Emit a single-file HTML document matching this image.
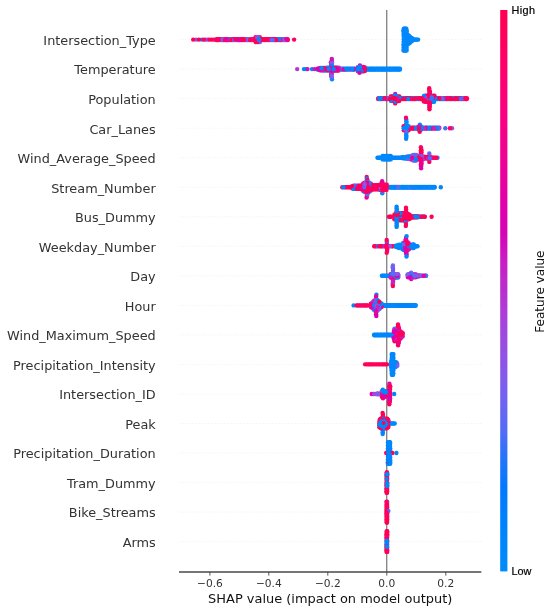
<!DOCTYPE html>
<html lang="en"><head><meta charset="utf-8"><title>SHAP summary plot</title>
<style>
html,body{margin:0;padding:0;background:#fff}
body{width:550px;height:609px;overflow:hidden}
svg{display:block}
text{font-family:"DejaVu Sans","Liberation Sans",sans-serif;fill:#333}
.tk text{font-size:10.65px}
.xl{font-size:12.95px;fill:#111}
.yl text{font-size:12.85px}
.hl{font-family:"Liberation Sans","DejaVu Sans",sans-serif;font-size:10.9px;fill:#000;stroke:#000;stroke-width:0.2px}
.fv{font-size:12.05px;fill:#111}
</style></head><body>
<svg width="550" height="609" viewBox="0 0 550 609">
<defs><linearGradient id="cb" x1="0" y1="1" x2="0" y2="0">
<stop offset="0.00" stop-color="#008bfb"/>
<stop offset="0.05" stop-color="#0086fd"/>
<stop offset="0.10" stop-color="#0080fd"/>
<stop offset="0.15" stop-color="#007afd"/>
<stop offset="0.20" stop-color="#2574fa"/>
<stop offset="0.25" stop-color="#526cf7"/>
<stop offset="0.30" stop-color="#6e64f2"/>
<stop offset="0.35" stop-color="#855aeb"/>
<stop offset="0.40" stop-color="#984ee2"/>
<stop offset="0.45" stop-color="#aa41d9"/>
<stop offset="0.50" stop-color="#b92fce"/>
<stop offset="0.55" stop-color="#c81fc3"/>
<stop offset="0.60" stop-color="#d604b7"/>
<stop offset="0.65" stop-color="#e100ab"/>
<stop offset="0.70" stop-color="#ea009e"/>
<stop offset="0.75" stop-color="#f20092"/>
<stop offset="0.80" stop-color="#f90085"/>
<stop offset="0.85" stop-color="#fd0078"/>
<stop offset="0.90" stop-color="#ff006b"/>
<stop offset="0.95" stop-color="#ff005e"/>
<stop offset="1.00" stop-color="#ff0051"/>
</linearGradient></defs>
<rect width="550" height="609" fill="#fff"/>
<g stroke="#cccccc" stroke-width="0.9" stroke-dasharray="1.2 2" opacity="0.3">
<line x1="179" x2="481.3" y1="39.6" y2="39.6"/>
<line x1="179" x2="481.3" y1="69.1" y2="69.1"/>
<line x1="179" x2="481.3" y1="98.7" y2="98.7"/>
<line x1="179" x2="481.3" y1="128.2" y2="128.2"/>
<line x1="179" x2="481.3" y1="157.7" y2="157.7"/>
<line x1="179" x2="481.3" y1="187.2" y2="187.2"/>
<line x1="179" x2="481.3" y1="216.8" y2="216.8"/>
<line x1="179" x2="481.3" y1="246.3" y2="246.3"/>
<line x1="179" x2="481.3" y1="275.8" y2="275.8"/>
<line x1="179" x2="481.3" y1="305.4" y2="305.4"/>
<line x1="179" x2="481.3" y1="334.9" y2="334.9"/>
<line x1="179" x2="481.3" y1="364.4" y2="364.4"/>
<line x1="179" x2="481.3" y1="394.0" y2="394.0"/>
<line x1="179" x2="481.3" y1="423.5" y2="423.5"/>
<line x1="179" x2="481.3" y1="453.0" y2="453.0"/>
<line x1="179" x2="481.3" y1="482.6" y2="482.6"/>
<line x1="179" x2="481.3" y1="512.1" y2="512.1"/>
<line x1="179" x2="481.3" y1="541.6" y2="541.6"/>
</g>
<line x1="386.75" x2="386.75" y1="10" y2="572" stroke="#707070" stroke-width="1.15"/>
<g class="d">
<circle cx="331.1" cy="69.1" r="2.2" fill="#ff005f"/>
<circle cx="423.7" cy="157.7" r="2.2" fill="#ff005c"/>
<circle cx="387.2" cy="518.1" r="2.2" fill="#ff0051"/>
<circle cx="366.5" cy="192.4" r="2.2" fill="#ea009f"/>
<circle cx="207.8" cy="39.6" r="2.2" fill="#984ee2"/>
<circle cx="405.6" cy="41.2" r="2.2" fill="#0084fd"/>
<circle cx="342.2" cy="69.5" r="2.2" fill="#0089fc"/>
<circle cx="386.7" cy="252.7" r="2.2" fill="#ff005d"/>
<circle cx="406.5" cy="41.2" r="2.2" fill="#0084fd"/>
<circle cx="403.8" cy="41.2" r="2.2" fill="#008afb"/>
<circle cx="403.8" cy="39.6" r="2.2" fill="#0087fc"/>
<circle cx="399.6" cy="305.7" r="2.2" fill="#008afb"/>
<circle cx="389.5" cy="98.3" r="2.2" fill="#ff0064"/>
<circle cx="387.6" cy="394.0" r="2.2" fill="#ff0061"/>
<circle cx="413.5" cy="156.3" r="2.2" fill="#0086fc"/>
<circle cx="385.7" cy="428.2" r="2.2" fill="#ff0065"/>
<circle cx="360.8" cy="185.6" r="2.2" fill="#6168f4"/>
<circle cx="284.1" cy="39.2" r="2.2" fill="#6b65f2"/>
<circle cx="403.6" cy="31.8" r="2.2" fill="#0084fd"/>
<circle cx="390.8" cy="305.1" r="2.2" fill="#0089fc"/>
<circle cx="382.7" cy="432.2" r="2.2" fill="#0084fd"/>
<circle cx="414.9" cy="154.9" r="2.2" fill="#7461f0"/>
<circle cx="386.6" cy="510.6" r="2.2" fill="#ff0056"/>
<circle cx="276.3" cy="39.2" r="2.2" fill="#ff005c"/>
<circle cx="396.2" cy="364.4" r="2.2" fill="#0088fc"/>
<circle cx="231.0" cy="39.2" r="2.2" fill="#566bf6"/>
<circle cx="389.1" cy="334.6" r="2.2" fill="#0086fd"/>
<circle cx="460.7" cy="98.3" r="2.2" fill="#0088fc"/>
<circle cx="378.3" cy="335.3" r="2.2" fill="#008afb"/>
<circle cx="427.5" cy="100.2" r="2.2" fill="#9352e5"/>
<circle cx="385.2" cy="275.8" r="2.2" fill="#008afb"/>
<circle cx="324.0" cy="67.9" r="2.2" fill="#ff0057"/>
<circle cx="408.6" cy="130.2" r="2.2" fill="#ff0060"/>
<circle cx="424.8" cy="275.8" r="2.2" fill="#6168f4"/>
<circle cx="458.0" cy="98.3" r="2.2" fill="#0086fd"/>
<circle cx="387.1" cy="540.1" r="2.2" fill="#ff0059"/>
<circle cx="403.9" cy="215.0" r="2.2" fill="#ff005e"/>
<circle cx="405.7" cy="30.3" r="2.2" fill="#008afb"/>
<circle cx="404.7" cy="186.9" r="2.2" fill="#0089fc"/>
<circle cx="333.8" cy="67.8" r="2.2" fill="#0087fc"/>
<circle cx="416.1" cy="160.5" r="2.2" fill="#9d4be0"/>
<circle cx="394.2" cy="394.0" r="2.2" fill="#0086fc"/>
<circle cx="412.3" cy="160.0" r="2.2" fill="#8a57e9"/>
<circle cx="398.5" cy="187.6" r="2.2" fill="#0088fc"/>
<circle cx="388.0" cy="157.7" r="2.2" fill="#008afb"/>
<circle cx="449.3" cy="98.3" r="2.2" fill="#ff005b"/>
<circle cx="390.0" cy="446.8" r="2.2" fill="#008afb"/>
<circle cx="387.2" cy="535.7" r="2.2" fill="#ff005c"/>
<circle cx="394.5" cy="277.5" r="2.2" fill="#ff0060"/>
<circle cx="429.8" cy="102.3" r="2.2" fill="#c820c3"/>
<circle cx="406.2" cy="251.4" r="2.2" fill="#0085fd"/>
<circle cx="256.5" cy="39.2" r="2.2" fill="#ff0058"/>
<circle cx="401.2" cy="337.6" r="2.2" fill="#e200a9"/>
<circle cx="362.3" cy="184.9" r="2.2" fill="#ff0065"/>
<circle cx="376.9" cy="187.2" r="2.2" fill="#ff0055"/>
<circle cx="430.4" cy="128.5" r="2.2" fill="#ff0054"/>
<circle cx="382.7" cy="416.5" r="2.2" fill="#ff005c"/>
<circle cx="395.9" cy="157.7" r="2.2" fill="#0085fd"/>
<circle cx="386.7" cy="478.2" r="2.2" fill="#ff0057"/>
<circle cx="382.6" cy="156.0" r="2.2" fill="#008afb"/>
<circle cx="318.9" cy="69.8" r="2.2" fill="#ec009c"/>
<circle cx="255.5" cy="37.1" r="2.2" fill="#ff0059"/>
<circle cx="400.3" cy="215.0" r="2.2" fill="#0084fd"/>
<circle cx="267.7" cy="40.0" r="2.2" fill="#8858e9"/>
<circle cx="386.6" cy="509.1" r="2.2" fill="#ff0053"/>
<circle cx="399.9" cy="333.0" r="2.2" fill="#ed009a"/>
<circle cx="381.7" cy="391.2" r="2.2" fill="#994ee2"/>
<circle cx="416.8" cy="99.0" r="2.2" fill="#ff005c"/>
<circle cx="394.4" cy="334.9" r="2.2" fill="#7b5eee"/>
<circle cx="409.0" cy="214.5" r="2.2" fill="#ff005f"/>
<circle cx="393.2" cy="99.0" r="2.2" fill="#0085fd"/>
<circle cx="392.0" cy="355.6" r="2.2" fill="#0086fd"/>
<circle cx="400.1" cy="334.9" r="2.2" fill="#ff005a"/>
<circle cx="390.2" cy="68.8" r="2.2" fill="#0084fd"/>
<circle cx="382.0" cy="423.5" r="2.2" fill="#ff005f"/>
<circle cx="387.1" cy="512.1" r="2.2" fill="#ff0051"/>
<circle cx="375.2" cy="246.3" r="2.2" fill="#ff0060"/>
<circle cx="347.4" cy="68.8" r="2.2" fill="#0085fd"/>
<circle cx="382.6" cy="428.7" r="2.2" fill="#008afb"/>
<circle cx="417.5" cy="128.5" r="2.2" fill="#ff0060"/>
<circle cx="403.6" cy="126.2" r="2.2" fill="#ff005b"/>
<circle cx="406.1" cy="237.8" r="2.2" fill="#ff005c"/>
<circle cx="378.2" cy="99.0" r="2.2" fill="#ff005f"/>
<circle cx="406.5" cy="248.3" r="2.2" fill="#ff0055"/>
<circle cx="398.7" cy="220.3" r="2.2" fill="#0086fd"/>
<circle cx="425.6" cy="99.0" r="2.2" fill="#008afb"/>
<circle cx="407.1" cy="158.8" r="2.2" fill="#984fe3"/>
<circle cx="419.7" cy="159.0" r="2.2" fill="#e100ab"/>
<circle cx="386.7" cy="532.8" r="2.2" fill="#ff0056"/>
<circle cx="372.9" cy="303.6" r="2.2" fill="#6965f3"/>
<circle cx="369.7" cy="184.2" r="2.2" fill="#ff005b"/>
<circle cx="387.1" cy="503.1" r="2.2" fill="#ff0056"/>
<circle cx="348.6" cy="187.2" r="2.2" fill="#c720c3"/>
<circle cx="403.8" cy="242.7" r="2.2" fill="#cc1ac0"/>
<circle cx="376.9" cy="364.4" r="2.1" fill="#ff0054"/>
<circle cx="381.9" cy="396.8" r="2.2" fill="#ff0064"/>
<circle cx="386.8" cy="241.5" r="2.2" fill="#7561f0"/>
<circle cx="331.4" cy="65.7" r="2.2" fill="#0084fd"/>
<circle cx="405.8" cy="305.1" r="2.2" fill="#0089fc"/>
<circle cx="425.1" cy="128.5" r="2.2" fill="#0086fd"/>
<circle cx="433.1" cy="95.7" r="2.2" fill="#ff0056"/>
<circle cx="391.9" cy="305.7" r="2.2" fill="#0087fc"/>
<circle cx="366.9" cy="69.5" r="2.2" fill="#0087fc"/>
<circle cx="373.7" cy="364.4" r="2.1" fill="#ff0053"/>
<circle cx="435.6" cy="128.5" r="2.2" fill="#ff0057"/>
<circle cx="387.1" cy="547.5" r="2.2" fill="#ff0058"/>
<circle cx="403.7" cy="47.4" r="2.2" fill="#0088fc"/>
<circle cx="238.7" cy="39.2" r="2.2" fill="#ff005f"/>
<circle cx="392.2" cy="157.7" r="2.2" fill="#008afb"/>
<circle cx="436.6" cy="127.8" r="2.2" fill="#d602b6"/>
<circle cx="420.9" cy="157.7" r="2.2" fill="#ec009c"/>
<circle cx="404.6" cy="36.5" r="2.2" fill="#0084fd"/>
<circle cx="410.4" cy="305.1" r="2.2" fill="#0087fc"/>
<circle cx="401.9" cy="305.1" r="2.2" fill="#0085fd"/>
<circle cx="392.2" cy="367.2" r="2.2" fill="#0088fc"/>
<circle cx="395.0" cy="187.2" r="2.2" fill="#805cec"/>
<circle cx="439.6" cy="99.0" r="2.2" fill="#e400a7"/>
<circle cx="389.0" cy="446.8" r="2.2" fill="#0084fd"/>
<circle cx="389.3" cy="442.2" r="2.2" fill="#0088fc"/>
<circle cx="387.5" cy="69.5" r="2.2" fill="#0086fc"/>
<circle cx="354.6" cy="69.5" r="2.2" fill="#0086fd"/>
<circle cx="370.8" cy="189.0" r="2.2" fill="#e300a9"/>
<circle cx="398.8" cy="216.8" r="2.2" fill="#0087fc"/>
<circle cx="422.7" cy="127.8" r="2.2" fill="#ff0059"/>
<circle cx="409.1" cy="219.1" r="2.2" fill="#ff0065"/>
<circle cx="335.0" cy="67.8" r="2.2" fill="#d800b5"/>
<circle cx="369.3" cy="191.8" r="2.2" fill="#9252e5"/>
<circle cx="429.2" cy="89.9" r="2.2" fill="#ff0062"/>
<circle cx="427.6" cy="128.5" r="2.2" fill="#0088fc"/>
<circle cx="429.2" cy="95.2" r="2.2" fill="#ff005c"/>
<circle cx="388.1" cy="454.6" r="2.2" fill="#008afb"/>
<circle cx="412.5" cy="244.5" r="2.2" fill="#0084fd"/>
<circle cx="331.9" cy="69.1" r="2.2" fill="#0086fd"/>
<circle cx="387.4" cy="157.7" r="2.2" fill="#0084fd"/>
<circle cx="389.4" cy="383.7" r="2.2" fill="#ec009b"/>
<circle cx="232.8" cy="39.2" r="2.2" fill="#ff0061"/>
<circle cx="370.6" cy="190.8" r="2.2" fill="#3b71f9"/>
<circle cx="357.3" cy="185.6" r="2.2" fill="#4070f9"/>
<circle cx="421.2" cy="129.6" r="2.2" fill="#0089fc"/>
<circle cx="416.3" cy="127.8" r="2.2" fill="#0085fd"/>
<circle cx="223.6" cy="40.0" r="2.2" fill="#ff005e"/>
<circle cx="326.4" cy="70.4" r="2.2" fill="#0088fc"/>
<circle cx="257.8" cy="39.2" r="2.2" fill="#6a65f2"/>
<circle cx="425.4" cy="98.3" r="2.2" fill="#ff0064"/>
<circle cx="403.3" cy="157.2" r="2.2" fill="#0084fd"/>
<circle cx="381.0" cy="420.4" r="2.2" fill="#008afb"/>
<circle cx="386.5" cy="246.3" r="2.2" fill="#8858e9"/>
<circle cx="363.4" cy="69.1" r="2.2" fill="#ff005e"/>
<circle cx="431.5" cy="127.8" r="2.2" fill="#835beb"/>
<circle cx="426.5" cy="101.7" r="2.2" fill="#4270f9"/>
<circle cx="406.2" cy="119.4" r="2.2" fill="#0084fd"/>
<circle cx="255.3" cy="40.0" r="2.2" fill="#ff005e"/>
<circle cx="377.8" cy="334.6" r="2.2" fill="#0086fd"/>
<circle cx="347.1" cy="69.5" r="2.2" fill="#0087fc"/>
<circle cx="392.6" cy="275.8" r="2.2" fill="#486ef8"/>
<circle cx="409.4" cy="99.0" r="2.2" fill="#0087fc"/>
<circle cx="399.5" cy="246.3" r="2.2" fill="#0086fc"/>
<circle cx="429.7" cy="96.8" r="2.2" fill="#0087fc"/>
<circle cx="397.2" cy="305.1" r="2.2" fill="#008afb"/>
<circle cx="420.7" cy="154.2" r="2.2" fill="#ff005d"/>
<circle cx="388.0" cy="448.4" r="2.2" fill="#0085fd"/>
<circle cx="410.8" cy="275.8" r="2.2" fill="#7e5ded"/>
<circle cx="384.8" cy="418.8" r="2.2" fill="#ff005c"/>
<circle cx="426.5" cy="95.7" r="2.2" fill="#0086fc"/>
<circle cx="406.3" cy="28.7" r="2.2" fill="#008afb"/>
<circle cx="403.2" cy="305.7" r="2.2" fill="#0088fc"/>
<circle cx="429.8" cy="93.2" r="2.2" fill="#0089fc"/>
<circle cx="383.1" cy="428.2" r="2.2" fill="#ff0056"/>
<circle cx="362.1" cy="187.2" r="2.2" fill="#ff0061"/>
<circle cx="395.7" cy="277.5" r="2.2" fill="#ff005c"/>
<circle cx="429.5" cy="157.7" r="2.2" fill="#ff0052"/>
<circle cx="398.2" cy="99.0" r="2.2" fill="#ff0060"/>
<circle cx="398.1" cy="343.6" r="2.2" fill="#eb009d"/>
<circle cx="405.6" cy="98.3" r="2.2" fill="#ff0056"/>
<circle cx="391.0" cy="305.7" r="2.2" fill="#0089fb"/>
<circle cx="385.4" cy="156.0" r="2.2" fill="#0089fb"/>
<circle cx="374.6" cy="185.2" r="2.2" fill="#df00ad"/>
<circle cx="390.7" cy="335.3" r="2.2" fill="#0088fc"/>
<circle cx="353.6" cy="305.4" r="2.2" fill="#0088fc"/>
<circle cx="417.5" cy="246.3" r="2.2" fill="#0087fc"/>
<circle cx="355.8" cy="185.6" r="2.2" fill="#ff0060"/>
<circle cx="387.2" cy="550.4" r="2.2" fill="#ff005a"/>
<circle cx="423.4" cy="158.9" r="2.2" fill="#5f69f5"/>
<circle cx="401.2" cy="186.9" r="2.2" fill="#0086fd"/>
<circle cx="372.9" cy="301.9" r="2.2" fill="#008afb"/>
<circle cx="387.0" cy="509.1" r="2.2" fill="#ff005e"/>
<circle cx="331.7" cy="72.5" r="2.2" fill="#c721c3"/>
<circle cx="406.6" cy="242.9" r="2.2" fill="#ff0057"/>
<circle cx="405.3" cy="220.1" r="2.2" fill="#ff0061"/>
<circle cx="429.2" cy="88.2" r="2.2" fill="#ff0057"/>
<circle cx="434.7" cy="157.7" r="2.2" fill="#ff0051"/>
<circle cx="387.2" cy="364.4" r="2.1" fill="#ff0063"/>
<circle cx="389.0" cy="443.8" r="2.2" fill="#0084fd"/>
<circle cx="388.1" cy="159.4" r="2.2" fill="#0088fc"/>
<circle cx="406.3" cy="128.2" r="2.2" fill="#008afb"/>
<circle cx="405.4" cy="31.8" r="2.2" fill="#0085fd"/>
<circle cx="382.7" cy="434.0" r="2.2" fill="#0086fd"/>
<circle cx="389.0" cy="216.8" r="2.2" fill="#ff0063"/>
<circle cx="382.8" cy="391.9" r="2.2" fill="#008afb"/>
<circle cx="406.5" cy="42.7" r="2.2" fill="#0086fc"/>
<circle cx="394.4" cy="305.1" r="2.2" fill="#008afb"/>
<circle cx="392.8" cy="282.7" r="2.2" fill="#cd19bf"/>
<circle cx="437.9" cy="128.5" r="2.2" fill="#0086fc"/>
<circle cx="257.8" cy="40.0" r="2.2" fill="#ff0060"/>
<circle cx="392.1" cy="305.1" r="2.2" fill="#0086fc"/>
<circle cx="425.9" cy="157.0" r="2.2" fill="#ff0056"/>
<circle cx="392.3" cy="361.6" r="2.2" fill="#0087fc"/>
<circle cx="410.4" cy="274.3" r="2.2" fill="#d013bc"/>
<circle cx="406.3" cy="39.6" r="2.2" fill="#0086fd"/>
<circle cx="420.8" cy="164.7" r="2.2" fill="#ee0099"/>
<circle cx="466.8" cy="99.0" r="2.2" fill="#ff0063"/>
<circle cx="387.1" cy="476.8" r="2.2" fill="#ff005d"/>
<circle cx="386.5" cy="550.4" r="2.2" fill="#ff0057"/>
<circle cx="352.4" cy="188.4" r="2.2" fill="#ff0052"/>
<circle cx="421.4" cy="159.5" r="2.2" fill="#da00b3"/>
<circle cx="392.0" cy="96.4" r="2.2" fill="#ff0052"/>
<circle cx="376.5" cy="69.5" r="2.2" fill="#0087fc"/>
<circle cx="407.9" cy="214.0" r="2.2" fill="#ff0058"/>
<circle cx="418.8" cy="275.4" r="2.2" fill="#008afb"/>
<circle cx="389.3" cy="449.9" r="2.2" fill="#0089fc"/>
<circle cx="227.5" cy="40.0" r="2.2" fill="#ff0057"/>
<circle cx="383.9" cy="68.8" r="2.2" fill="#0085fd"/>
<circle cx="399.1" cy="331.8" r="2.2" fill="#ff0061"/>
<circle cx="353.3" cy="69.5" r="2.2" fill="#0089fb"/>
<circle cx="354.5" cy="188.9" r="2.2" fill="#0087fc"/>
<circle cx="386.5" cy="544.6" r="2.2" fill="#0087fc"/>
<circle cx="385.5" cy="98.3" r="2.2" fill="#5e69f5"/>
<circle cx="372.3" cy="364.4" r="2.1" fill="#ff0065"/>
<circle cx="360.4" cy="305.4" r="2.2" fill="#0085fd"/>
<circle cx="399.6" cy="99.0" r="2.2" fill="#ff0063"/>
<circle cx="341.4" cy="69.5" r="2.2" fill="#0085fd"/>
<circle cx="393.2" cy="157.7" r="2.2" fill="#0089fc"/>
<circle cx="386.6" cy="551.9" r="2.2" fill="#ff0053"/>
<circle cx="389.3" cy="404.3" r="2.2" fill="#ff0056"/>
<circle cx="406.1" cy="253.1" r="2.2" fill="#ff005d"/>
<circle cx="413.5" cy="160.5" r="2.2" fill="#8b57e9"/>
<circle cx="415.6" cy="305.7" r="2.2" fill="#0086fd"/>
<circle cx="415.1" cy="216.3" r="2.2" fill="#ff0056"/>
<circle cx="391.9" cy="335.3" r="2.2" fill="#0088fc"/>
<circle cx="393.3" cy="373.3" r="2.2" fill="#008afb"/>
<circle cx="402.6" cy="213.2" r="2.2" fill="#ff0058"/>
<circle cx="426.5" cy="100.2" r="2.2" fill="#ff0056"/>
<circle cx="448.2" cy="98.3" r="2.2" fill="#ff005c"/>
<circle cx="398.5" cy="338.4" r="2.2" fill="#ff0054"/>
<circle cx="388.3" cy="419.9" r="2.2" fill="#ff0064"/>
<circle cx="421.3" cy="154.1" r="2.2" fill="#ff005d"/>
<circle cx="394.4" cy="275.8" r="2.2" fill="#ff0057"/>
<circle cx="408.2" cy="305.7" r="2.2" fill="#0084fd"/>
<circle cx="320.0" cy="69.1" r="2.2" fill="#e200aa"/>
<circle cx="412.3" cy="38.5" r="2.2" fill="#0088fc"/>
<circle cx="378.2" cy="308.6" r="2.2" fill="#9252e5"/>
<circle cx="281.3" cy="40.0" r="2.2" fill="#ff0059"/>
<circle cx="421.0" cy="152.5" r="2.2" fill="#ff005f"/>
<circle cx="406.5" cy="244.6" r="2.2" fill="#ff005f"/>
<circle cx="430.8" cy="98.3" r="2.2" fill="#ff005d"/>
<circle cx="201.9" cy="39.6" r="2.2" fill="#0086fd"/>
<circle cx="413.8" cy="274.3" r="2.2" fill="#c425c6"/>
<circle cx="392.6" cy="373.3" r="2.2" fill="#0086fd"/>
<circle cx="344.8" cy="187.2" r="2.2" fill="#ff0062"/>
<circle cx="398.2" cy="277.4" r="2.2" fill="#974fe3"/>
<circle cx="400.9" cy="187.6" r="2.2" fill="#0085fd"/>
<circle cx="446.7" cy="98.3" r="2.2" fill="#ff005b"/>
<circle cx="383.2" cy="98.3" r="2.2" fill="#9b4de1"/>
<circle cx="404.0" cy="216.8" r="2.2" fill="#ff005e"/>
<circle cx="392.9" cy="265.5" r="2.2" fill="#6f63f1"/>
<circle cx="381.9" cy="275.8" r="2.2" fill="#008afb"/>
<circle cx="421.1" cy="128.2" r="2.2" fill="#ff0051"/>
<circle cx="405.6" cy="244.6" r="2.2" fill="#d700b5"/>
<circle cx="255.0" cy="39.2" r="2.2" fill="#ff0056"/>
<circle cx="398.7" cy="330.2" r="2.2" fill="#ff0063"/>
<circle cx="355.9" cy="187.2" r="2.2" fill="#ff0052"/>
<circle cx="332.8" cy="67.8" r="2.2" fill="#df00ad"/>
<circle cx="249.0" cy="40.0" r="2.2" fill="#0089fc"/>
<circle cx="398.5" cy="333.2" r="2.2" fill="#ff005d"/>
<circle cx="408.1" cy="42.5" r="2.2" fill="#0085fd"/>
<circle cx="381.8" cy="392.6" r="2.2" fill="#8858ea"/>
<circle cx="382.8" cy="395.4" r="2.2" fill="#ff0062"/>
<circle cx="414.4" cy="305.1" r="2.2" fill="#0084fd"/>
<circle cx="399.1" cy="218.5" r="2.2" fill="#0085fd"/>
<circle cx="411.0" cy="127.8" r="2.2" fill="#ff005f"/>
<circle cx="262.8" cy="40.0" r="2.2" fill="#ff005e"/>
<circle cx="414.0" cy="217.4" r="2.2" fill="#ff0064"/>
<circle cx="410.0" cy="215.2" r="2.2" fill="#ff005f"/>
<circle cx="386.6" cy="516.6" r="2.2" fill="#ff0061"/>
<circle cx="378.8" cy="157.7" r="2.2" fill="#0085fd"/>
<circle cx="374.3" cy="308.6" r="2.2" fill="#8a57e9"/>
<circle cx="404.2" cy="248.1" r="2.2" fill="#785fef"/>
<circle cx="332.0" cy="79.2" r="2.2" fill="#0087fc"/>
<circle cx="451.7" cy="98.3" r="2.2" fill="#008afb"/>
<circle cx="419.6" cy="186.9" r="2.2" fill="#0087fc"/>
<circle cx="233.7" cy="39.2" r="2.2" fill="#db00b1"/>
<circle cx="402.0" cy="158.1" r="2.2" fill="#7262f0"/>
<circle cx="386.7" cy="488.3" r="2.2" fill="#ff0057"/>
<circle cx="387.1" cy="475.3" r="2.2" fill="#ff0060"/>
<circle cx="404.7" cy="187.6" r="2.2" fill="#0087fc"/>
<circle cx="366.9" cy="187.2" r="2.2" fill="#cf15bd"/>
<circle cx="374.2" cy="307.0" r="2.2" fill="#ff0062"/>
<circle cx="406.3" cy="216.8" r="2.2" fill="#ff0063"/>
<circle cx="375.5" cy="68.8" r="2.2" fill="#0085fd"/>
<circle cx="427.3" cy="157.1" r="2.2" fill="#ff005c"/>
<circle cx="385.8" cy="99.0" r="2.2" fill="#ff005e"/>
<circle cx="389.8" cy="401.8" r="2.2" fill="#ff0057"/>
<circle cx="387.3" cy="425.1" r="2.2" fill="#ff0059"/>
<circle cx="411.9" cy="98.3" r="2.2" fill="#ff0057"/>
<circle cx="398.7" cy="333.0" r="2.2" fill="#ff0056"/>
<circle cx="423.2" cy="98.3" r="2.2" fill="#0085fd"/>
<circle cx="462.0" cy="98.3" r="2.2" fill="#ff0055"/>
<circle cx="434.1" cy="100.2" r="2.2" fill="#ff0061"/>
<circle cx="404.3" cy="98.3" r="2.2" fill="#0088fc"/>
<circle cx="353.3" cy="187.2" r="2.2" fill="#ff0058"/>
<circle cx="406.9" cy="305.1" r="2.2" fill="#008afb"/>
<circle cx="425.0" cy="98.7" r="2.2" fill="#ff0054"/>
<circle cx="396.8" cy="246.9" r="2.2" fill="#0086fd"/>
<circle cx="366.8" cy="180.4" r="2.2" fill="#8759ea"/>
<circle cx="408.5" cy="128.2" r="2.2" fill="#ff0058"/>
<circle cx="196.2" cy="39.6" r="2.2" fill="#8c56e8"/>
<circle cx="279.2" cy="40.0" r="2.2" fill="#ff0066"/>
<circle cx="406.4" cy="129.9" r="2.2" fill="#7362f0"/>
<circle cx="394.6" cy="341.2" r="2.2" fill="#ff005c"/>
<circle cx="377.9" cy="305.4" r="2.2" fill="#0084fd"/>
<circle cx="407.5" cy="128.2" r="2.2" fill="#0087fc"/>
<circle cx="398.9" cy="333.3" r="2.2" fill="#ff0054"/>
<circle cx="408.8" cy="247.8" r="2.2" fill="#ff005b"/>
<circle cx="418.6" cy="156.3" r="2.2" fill="#d20eba"/>
<circle cx="391.6" cy="361.5" r="2.2" fill="#0088fc"/>
<circle cx="396.2" cy="218.3" r="2.2" fill="#ff0063"/>
<circle cx="388.1" cy="335.3" r="2.2" fill="#0087fc"/>
<circle cx="377.7" cy="68.8" r="2.2" fill="#0087fc"/>
<circle cx="397.5" cy="215.1" r="2.2" fill="#0086fd"/>
<circle cx="211.7" cy="39.6" r="2.2" fill="#ff005a"/>
<circle cx="385.8" cy="418.8" r="2.2" fill="#ff0062"/>
<circle cx="362.5" cy="67.0" r="2.2" fill="#e700a3"/>
<circle cx="387.7" cy="246.3" r="2.2" fill="#ff0056"/>
<circle cx="375.1" cy="69.5" r="2.2" fill="#0087fc"/>
<circle cx="405.4" cy="50.5" r="2.2" fill="#0088fc"/>
<circle cx="415.7" cy="187.6" r="2.2" fill="#0089fb"/>
<circle cx="386.9" cy="98.3" r="2.2" fill="#ff0052"/>
<circle cx="406.2" cy="246.3" r="2.2" fill="#ff005c"/>
<circle cx="409.4" cy="43.3" r="2.2" fill="#008afb"/>
<circle cx="407.2" cy="98.3" r="2.2" fill="#ff0057"/>
<circle cx="421.2" cy="157.7" r="2.2" fill="#ff005f"/>
<circle cx="413.8" cy="246.3" r="2.2" fill="#0088fc"/>
<circle cx="359.4" cy="187.2" r="2.2" fill="#ec009c"/>
<circle cx="405.7" cy="33.4" r="2.2" fill="#0086fd"/>
<circle cx="384.5" cy="305.1" r="2.2" fill="#0084fd"/>
<circle cx="382.6" cy="159.4" r="2.2" fill="#008bfb"/>
<circle cx="380.3" cy="69.5" r="2.2" fill="#0087fc"/>
<circle cx="396.7" cy="98.7" r="2.2" fill="#ff0061"/>
<circle cx="377.8" cy="393.5" r="2.2" fill="#e100ab"/>
<circle cx="434.1" cy="127.8" r="2.2" fill="#0085fd"/>
<circle cx="419.9" cy="129.6" r="2.2" fill="#ff005c"/>
<circle cx="331.9" cy="67.4" r="2.2" fill="#0084fd"/>
<circle cx="381.0" cy="428.2" r="2.2" fill="#ff0061"/>
<circle cx="387.1" cy="485.4" r="2.2" fill="#ff0052"/>
<circle cx="416.5" cy="216.3" r="2.2" fill="#008afb"/>
<circle cx="352.5" cy="69.5" r="2.2" fill="#0086fc"/>
<circle cx="421.5" cy="150.4" r="2.2" fill="#ff005e"/>
<circle cx="376.4" cy="294.8" r="2.2" fill="#0084fd"/>
<circle cx="396.6" cy="216.8" r="2.2" fill="#ff005b"/>
<circle cx="369.6" cy="190.3" r="2.2" fill="#6965f3"/>
<circle cx="386.7" cy="479.7" r="2.2" fill="#ff0053"/>
<circle cx="391.3" cy="367.2" r="2.2" fill="#008afb"/>
<circle cx="331.7" cy="70.8" r="2.2" fill="#9253e6"/>
<circle cx="378.5" cy="364.4" r="2.1" fill="#ff005e"/>
<circle cx="393.0" cy="269.0" r="2.2" fill="#eb009e"/>
<circle cx="403.6" cy="45.8" r="2.2" fill="#0087fc"/>
<circle cx="411.1" cy="272.6" r="2.2" fill="#7561f0"/>
<circle cx="321.3" cy="69.1" r="2.2" fill="#c128c8"/>
<circle cx="409.5" cy="186.9" r="2.2" fill="#008afb"/>
<circle cx="363.4" cy="185.3" r="2.2" fill="#ff005b"/>
<circle cx="385.7" cy="184.8" r="2.2" fill="#994ee2"/>
<circle cx="393.3" cy="275.8" r="2.2" fill="#d111bb"/>
<circle cx="392.7" cy="368.8" r="2.2" fill="#0086fd"/>
<circle cx="398.1" cy="341.8" r="2.2" fill="#df00ad"/>
<circle cx="216.1" cy="40.0" r="2.2" fill="#ff0060"/>
<circle cx="364.9" cy="67.4" r="2.2" fill="#ff005f"/>
<circle cx="354.4" cy="185.6" r="2.2" fill="#6965f3"/>
<circle cx="375.3" cy="302.0" r="2.2" fill="#9a4de2"/>
<circle cx="389.2" cy="385.4" r="2.2" fill="#c622c4"/>
<circle cx="382.5" cy="69.5" r="2.2" fill="#0087fc"/>
<circle cx="410.3" cy="39.6" r="2.2" fill="#0088fc"/>
<circle cx="413.7" cy="127.8" r="2.2" fill="#ff0061"/>
<circle cx="321.3" cy="70.3" r="2.2" fill="#008afb"/>
<circle cx="382.3" cy="182.8" r="2.2" fill="#ff0053"/>
<circle cx="406.2" cy="218.3" r="2.2" fill="#ff0059"/>
<circle cx="387.2" cy="516.6" r="2.2" fill="#ff0060"/>
<circle cx="411.7" cy="305.7" r="2.2" fill="#0089fc"/>
<circle cx="384.0" cy="69.5" r="2.2" fill="#0084fd"/>
<circle cx="370.7" cy="307.1" r="2.2" fill="#6567f4"/>
<circle cx="236.5" cy="40.0" r="2.2" fill="#4170f9"/>
<circle cx="406.1" cy="239.5" r="2.2" fill="#ff0058"/>
<circle cx="404.5" cy="41.2" r="2.2" fill="#0085fd"/>
<circle cx="380.6" cy="99.0" r="2.2" fill="#ff0060"/>
<circle cx="393.3" cy="357.1" r="2.2" fill="#008afb"/>
<circle cx="394.2" cy="339.6" r="2.2" fill="#ff0063"/>
<circle cx="386.0" cy="426.6" r="2.2" fill="#0086fd"/>
<circle cx="386.6" cy="549.0" r="2.2" fill="#ff0055"/>
<circle cx="317.5" cy="69.6" r="2.2" fill="#0084fd"/>
<circle cx="386.5" cy="484.0" r="2.2" fill="#ff0053"/>
<circle cx="326.4" cy="69.1" r="2.2" fill="#0084fd"/>
<circle cx="396.4" cy="453.0" r="2.2" fill="#0085fd"/>
<circle cx="428.3" cy="157.2" r="2.2" fill="#db00b1"/>
<circle cx="331.0" cy="64.0" r="2.2" fill="#0088fc"/>
<circle cx="439.3" cy="127.8" r="2.2" fill="#ff0060"/>
<circle cx="387.8" cy="156.0" r="2.2" fill="#0088fc"/>
<circle cx="393.6" cy="336.4" r="2.2" fill="#476ff8"/>
<circle cx="269.1" cy="40.0" r="2.2" fill="#ff0057"/>
<circle cx="399.5" cy="157.7" r="2.2" fill="#0086fd"/>
<circle cx="394.9" cy="69.5" r="2.2" fill="#0087fc"/>
<circle cx="393.0" cy="270.7" r="2.2" fill="#9d4be0"/>
<circle cx="391.1" cy="216.8" r="2.2" fill="#ff0064"/>
<circle cx="366.9" cy="188.8" r="2.2" fill="#9e4ae0"/>
<circle cx="222.7" cy="40.0" r="2.2" fill="#ff0053"/>
<circle cx="387.6" cy="395.8" r="2.2" fill="#ff005d"/>
<circle cx="325.2" cy="67.9" r="2.2" fill="#d700b6"/>
<circle cx="379.2" cy="187.2" r="2.2" fill="#ff0055"/>
<circle cx="406.4" cy="249.7" r="2.2" fill="#ff005b"/>
<circle cx="390.1" cy="387.7" r="2.2" fill="#ff0051"/>
<circle cx="394.4" cy="101.0" r="2.2" fill="#ff0053"/>
<circle cx="415.6" cy="99.0" r="2.2" fill="#008afb"/>
<circle cx="412.3" cy="128.5" r="2.2" fill="#0088fc"/>
<circle cx="398.0" cy="328.0" r="2.2" fill="#cb1bc0"/>
<circle cx="413.3" cy="39.2" r="2.2" fill="#008bfb"/>
<circle cx="395.1" cy="97.1" r="2.2" fill="#8e55e7"/>
<circle cx="394.3" cy="216.8" r="2.2" fill="#ff0064"/>
<circle cx="386.7" cy="275.8" r="2.2" fill="#0088fc"/>
<circle cx="405.9" cy="126.4" r="2.2" fill="#0087fc"/>
<circle cx="429.4" cy="100.4" r="2.2" fill="#e900a0"/>
<circle cx="404.6" cy="48.9" r="2.2" fill="#0087fc"/>
<circle cx="390.7" cy="156.0" r="2.2" fill="#0089fc"/>
<circle cx="430.1" cy="100.2" r="2.2" fill="#ff0060"/>
<circle cx="406.3" cy="213.7" r="2.2" fill="#ff005b"/>
<circle cx="419.3" cy="98.3" r="2.2" fill="#ff0062"/>
<circle cx="388.0" cy="445.3" r="2.2" fill="#0087fc"/>
<circle cx="397.8" cy="220.1" r="2.2" fill="#0086fd"/>
<circle cx="345.9" cy="69.5" r="2.2" fill="#0084fd"/>
<circle cx="365.6" cy="187.2" r="2.2" fill="#ff0051"/>
<circle cx="386.7" cy="472.5" r="2.2" fill="#ff0057"/>
<circle cx="364.8" cy="182.7" r="2.2" fill="#ff0059"/>
<circle cx="398.1" cy="345.3" r="2.2" fill="#ff0051"/>
<circle cx="408.2" cy="186.9" r="2.2" fill="#0089fc"/>
<circle cx="379.4" cy="305.4" r="2.2" fill="#e600a4"/>
<circle cx="417.4" cy="155.6" r="2.2" fill="#9352e5"/>
<circle cx="394.7" cy="99.0" r="2.2" fill="#ff0053"/>
<circle cx="387.2" cy="541.6" r="2.2" fill="#ff0060"/>
<circle cx="386.6" cy="473.9" r="2.2" fill="#ff0057"/>
<circle cx="218.5" cy="40.0" r="2.2" fill="#3b71f9"/>
<circle cx="405.8" cy="158.4" r="2.2" fill="#0088fc"/>
<circle cx="427.6" cy="127.8" r="2.2" fill="#0088fc"/>
<circle cx="393.0" cy="371.8" r="2.2" fill="#0087fc"/>
<circle cx="386.0" cy="423.5" r="2.2" fill="#ff0053"/>
<circle cx="347.4" cy="187.2" r="2.2" fill="#ff005b"/>
<circle cx="372.1" cy="305.4" r="2.2" fill="#ff005d"/>
<circle cx="395.9" cy="98.3" r="2.2" fill="#0085fd"/>
<circle cx="391.9" cy="358.5" r="2.2" fill="#0089fb"/>
<circle cx="248.8" cy="39.2" r="2.2" fill="#0084fd"/>
<circle cx="393.3" cy="358.5" r="2.2" fill="#0086fd"/>
<circle cx="437.9" cy="98.3" r="2.2" fill="#ff0064"/>
<circle cx="383.1" cy="99.0" r="2.2" fill="#ff005e"/>
<circle cx="422.9" cy="216.8" r="2.2" fill="#ff0060"/>
<circle cx="410.0" cy="218.4" r="2.2" fill="#ff0063"/>
<circle cx="331.3" cy="74.2" r="2.2" fill="#c523c5"/>
<circle cx="406.4" cy="253.1" r="2.2" fill="#ff0056"/>
<circle cx="423.8" cy="127.8" r="2.2" fill="#0088fc"/>
<circle cx="359.8" cy="188.9" r="2.2" fill="#ff005e"/>
<circle cx="390.8" cy="96.5" r="2.2" fill="#ff0064"/>
<circle cx="425.5" cy="127.8" r="2.2" fill="#008afb"/>
<circle cx="413.3" cy="187.6" r="2.2" fill="#0088fc"/>
<circle cx="348.5" cy="69.5" r="2.2" fill="#586bf6"/>
<circle cx="389.3" cy="156.0" r="2.2" fill="#0087fc"/>
<circle cx="404.7" cy="34.9" r="2.2" fill="#0086fd"/>
<circle cx="404.4" cy="31.8" r="2.2" fill="#0085fd"/>
<circle cx="380.7" cy="98.3" r="2.2" fill="#ff0058"/>
<circle cx="380.6" cy="305.4" r="2.2" fill="#9650e3"/>
<circle cx="331.3" cy="67.4" r="2.2" fill="#5c6af5"/>
<circle cx="404.6" cy="50.5" r="2.2" fill="#0088fc"/>
<circle cx="416.1" cy="154.9" r="2.2" fill="#855aeb"/>
<circle cx="386.6" cy="535.7" r="2.2" fill="#ff0054"/>
<circle cx="379.4" cy="425.4" r="2.2" fill="#ff0063"/>
<circle cx="379.5" cy="421.6" r="2.2" fill="#ff0052"/>
<circle cx="387.0" cy="488.3" r="2.2" fill="#ff0055"/>
<circle cx="395.9" cy="186.9" r="2.2" fill="#0087fc"/>
<circle cx="389.6" cy="186.9" r="2.2" fill="#0088fc"/>
<circle cx="331.3" cy="72.5" r="2.2" fill="#9352e5"/>
<circle cx="383.1" cy="335.3" r="2.2" fill="#0087fc"/>
<circle cx="394.7" cy="364.4" r="2.2" fill="#008afb"/>
<circle cx="429.3" cy="128.5" r="2.2" fill="#0085fd"/>
<circle cx="342.3" cy="187.2" r="2.2" fill="#ff0061"/>
<circle cx="454.4" cy="99.0" r="2.2" fill="#ff0058"/>
<circle cx="408.9" cy="249.3" r="2.2" fill="#ff0055"/>
<circle cx="376.1" cy="298.3" r="2.2" fill="#6965f3"/>
<circle cx="407.5" cy="126.2" r="2.2" fill="#ff0065"/>
<circle cx="399.0" cy="328.7" r="2.2" fill="#de00af"/>
<circle cx="394.3" cy="336.5" r="2.2" fill="#6866f3"/>
<circle cx="412.7" cy="217.4" r="2.2" fill="#ff005b"/>
<circle cx="357.8" cy="69.1" r="2.2" fill="#e900a0"/>
<circle cx="422.2" cy="187.6" r="2.2" fill="#0087fc"/>
<circle cx="423.7" cy="97.3" r="2.2" fill="#6f63f1"/>
<circle cx="261.4" cy="40.0" r="2.2" fill="#5e69f5"/>
<circle cx="332.0" cy="64.1" r="2.2" fill="#7e5ded"/>
<circle cx="398.1" cy="329.7" r="2.2" fill="#c720c3"/>
<circle cx="403.7" cy="44.3" r="2.2" fill="#0088fc"/>
<circle cx="395.7" cy="96.4" r="2.2" fill="#7760ef"/>
<circle cx="389.0" cy="448.4" r="2.2" fill="#0085fd"/>
<circle cx="338.7" cy="70.5" r="2.2" fill="#c523c5"/>
<circle cx="350.0" cy="68.8" r="2.2" fill="#0089fc"/>
<circle cx="441.8" cy="99.0" r="2.2" fill="#008bfb"/>
<circle cx="386.6" cy="519.6" r="2.2" fill="#ff0061"/>
<circle cx="406.5" cy="47.4" r="2.2" fill="#008afb"/>
<circle cx="366.0" cy="185.7" r="2.2" fill="#ff0057"/>
<circle cx="306.4" cy="69.1" r="2.2" fill="#008afb"/>
<circle cx="416.1" cy="277.1" r="2.2" fill="#e200a9"/>
<circle cx="382.1" cy="184.2" r="2.2" fill="#eb009e"/>
<circle cx="389.4" cy="305.1" r="2.2" fill="#008afb"/>
<circle cx="394.3" cy="96.4" r="2.2" fill="#ff0064"/>
<circle cx="379.4" cy="427.2" r="2.2" fill="#ff0052"/>
<circle cx="425.8" cy="275.8" r="2.2" fill="#0085fd"/>
<circle cx="354.6" cy="187.2" r="2.2" fill="#c91ec2"/>
<circle cx="393.1" cy="364.4" r="2.2" fill="#008afb"/>
<circle cx="393.0" cy="355.6" r="2.2" fill="#0089fb"/>
<circle cx="331.3" cy="67.8" r="2.2" fill="#ff005b"/>
<circle cx="395.2" cy="103.4" r="2.2" fill="#ff005f"/>
<circle cx="241.6" cy="40.0" r="2.2" fill="#536cf7"/>
<circle cx="395.1" cy="365.8" r="2.2" fill="#0087fc"/>
<circle cx="375.9" cy="307.1" r="2.2" fill="#4e6df7"/>
<circle cx="440.8" cy="99.0" r="2.2" fill="#ff0060"/>
<circle cx="406.4" cy="45.8" r="2.2" fill="#0086fd"/>
<circle cx="247.7" cy="39.2" r="2.2" fill="#4c6ef7"/>
<circle cx="390.7" cy="159.4" r="2.2" fill="#0086fd"/>
<circle cx="407.6" cy="275.8" r="2.2" fill="#0085fd"/>
<circle cx="425.1" cy="101.7" r="2.2" fill="#ff005b"/>
<circle cx="422.6" cy="275.8" r="2.2" fill="#835beb"/>
<circle cx="403.6" cy="186.9" r="2.2" fill="#0087fc"/>
<circle cx="390.0" cy="442.2" r="2.2" fill="#0085fd"/>
<circle cx="358.5" cy="185.6" r="2.2" fill="#0086fc"/>
<circle cx="391.8" cy="373.3" r="2.2" fill="#0089fc"/>
<circle cx="374.1" cy="302.2" r="2.2" fill="#ec009c"/>
<circle cx="270.3" cy="39.2" r="2.2" fill="#8659ea"/>
<circle cx="384.5" cy="305.7" r="2.2" fill="#0089fc"/>
<circle cx="365.5" cy="305.4" r="2.2" fill="#d800b5"/>
<circle cx="429.5" cy="186.9" r="2.2" fill="#0089fc"/>
<circle cx="382.8" cy="246.3" r="2.2" fill="#ff0052"/>
<circle cx="411.9" cy="305.1" r="2.2" fill="#0089fb"/>
<circle cx="386.7" cy="159.4" r="2.2" fill="#008afb"/>
<circle cx="393.2" cy="96.4" r="2.2" fill="#ff0059"/>
<circle cx="193.2" cy="39.6" r="2.2" fill="#ff0059"/>
<circle cx="371.8" cy="69.5" r="2.2" fill="#0089fb"/>
<circle cx="259.8" cy="37.1" r="2.2" fill="#ff0060"/>
<circle cx="395.8" cy="305.1" r="2.2" fill="#0089fb"/>
<circle cx="428.3" cy="99.0" r="2.2" fill="#835beb"/>
<circle cx="421.3" cy="165.0" r="2.2" fill="#ea009f"/>
<circle cx="387.1" cy="549.0" r="2.2" fill="#ff0061"/>
<circle cx="393.4" cy="98.7" r="2.2" fill="#ff005f"/>
<circle cx="381.7" cy="189.7" r="2.2" fill="#ff0062"/>
<circle cx="367.9" cy="69.5" r="2.2" fill="#008bfb"/>
<circle cx="388.1" cy="334.6" r="2.2" fill="#008afb"/>
<circle cx="385.6" cy="420.4" r="2.2" fill="#0087fc"/>
<circle cx="424.6" cy="157.0" r="2.2" fill="#ff0062"/>
<circle cx="391.9" cy="374.7" r="2.2" fill="#0089fc"/>
<circle cx="373.3" cy="307.1" r="2.2" fill="#5e69f5"/>
<circle cx="398.5" cy="336.6" r="2.2" fill="#ff0055"/>
<circle cx="393.4" cy="277.5" r="2.2" fill="#ec009d"/>
<circle cx="423.2" cy="187.6" r="2.2" fill="#0087fc"/>
<circle cx="406.3" cy="38.0" r="2.2" fill="#0086fd"/>
<circle cx="410.8" cy="274.2" r="2.2" fill="#4e6df7"/>
<circle cx="414.5" cy="305.7" r="2.2" fill="#0089fc"/>
<circle cx="444.2" cy="99.0" r="2.2" fill="#ff0052"/>
<circle cx="389.3" cy="387.1" r="2.2" fill="#ff0065"/>
<circle cx="421.1" cy="168.2" r="2.2" fill="#e200aa"/>
<circle cx="393.6" cy="365.8" r="2.2" fill="#0084fd"/>
<circle cx="387.2" cy="510.6" r="2.2" fill="#ff0054"/>
<circle cx="402.8" cy="333.2" r="2.2" fill="#ee0099"/>
<circle cx="419.8" cy="126.4" r="2.2" fill="#0087fc"/>
<circle cx="397.9" cy="96.4" r="2.2" fill="#ff0051"/>
<circle cx="402.9" cy="220.4" r="2.2" fill="#ff0057"/>
<circle cx="407.4" cy="130.2" r="2.2" fill="#ff0062"/>
<circle cx="402.7" cy="216.8" r="2.2" fill="#ff005a"/>
<circle cx="255.7" cy="42.1" r="2.2" fill="#ff0061"/>
<circle cx="406.2" cy="249.7" r="2.2" fill="#cb1cc1"/>
<circle cx="392.4" cy="360.0" r="2.2" fill="#0086fd"/>
<circle cx="458.2" cy="99.0" r="2.2" fill="#0089fc"/>
<circle cx="402.4" cy="187.6" r="2.2" fill="#0085fd"/>
<circle cx="366.6" cy="197.6" r="2.2" fill="#e500a5"/>
<circle cx="349.9" cy="69.5" r="2.2" fill="#0088fc"/>
<circle cx="368.3" cy="185.7" r="2.2" fill="#ed009a"/>
<circle cx="363.3" cy="187.2" r="2.2" fill="#ff0058"/>
<circle cx="386.7" cy="522.6" r="2.2" fill="#ff005c"/>
<circle cx="393.3" cy="186.9" r="2.2" fill="#0085fd"/>
<circle cx="417.7" cy="127.8" r="2.2" fill="#7860ef"/>
<circle cx="375.5" cy="310.5" r="2.2" fill="#e400a7"/>
<circle cx="361.0" cy="187.2" r="2.2" fill="#ff005b"/>
<circle cx="383.2" cy="187.2" r="2.2" fill="#6866f3"/>
<circle cx="372.8" cy="69.5" r="2.2" fill="#0089fc"/>
<circle cx="367.9" cy="68.8" r="2.2" fill="#0089fb"/>
<circle cx="406.2" cy="248.0" r="2.2" fill="#e900a0"/>
<circle cx="386.8" cy="243.1" r="2.2" fill="#476ff8"/>
<circle cx="394.4" cy="219.2" r="2.2" fill="#ff0051"/>
<circle cx="413.8" cy="275.8" r="2.2" fill="#0087fc"/>
<circle cx="297.2" cy="69.1" r="2.2" fill="#b03ad4"/>
<circle cx="420.0" cy="130.0" r="2.2" fill="#d111bb"/>
<circle cx="420.9" cy="98.3" r="2.2" fill="#ff0064"/>
<circle cx="374.4" cy="187.2" r="2.2" fill="#ff0058"/>
<circle cx="376.7" cy="68.8" r="2.2" fill="#0088fc"/>
<circle cx="421.1" cy="126.8" r="2.2" fill="#008afb"/>
<circle cx="361.4" cy="69.1" r="2.2" fill="#ff0053"/>
<circle cx="399.6" cy="186.9" r="2.2" fill="#6b65f2"/>
<circle cx="411.4" cy="39.6" r="2.2" fill="#0087fc"/>
<circle cx="357.8" cy="67.2" r="2.2" fill="#d20fbb"/>
<circle cx="410.7" cy="186.9" r="2.2" fill="#0085fd"/>
<circle cx="405.7" cy="239.5" r="2.2" fill="#e700a3"/>
<circle cx="429.3" cy="99.0" r="2.2" fill="#ff0059"/>
<circle cx="367.2" cy="190.9" r="2.2" fill="#7561f0"/>
<circle cx="464.2" cy="99.0" r="2.2" fill="#008afb"/>
<circle cx="422.1" cy="157.7" r="2.2" fill="#d012bc"/>
<circle cx="386.7" cy="486.9" r="2.2" fill="#ff0063"/>
<circle cx="403.3" cy="98.3" r="2.2" fill="#008afb"/>
<circle cx="369.6" cy="364.4" r="2.1" fill="#ff0056"/>
<circle cx="432.1" cy="157.7" r="2.2" fill="#ff0053"/>
<circle cx="387.7" cy="392.2" r="2.2" fill="#008afb"/>
<circle cx="387.0" cy="522.6" r="2.2" fill="#ff0057"/>
<circle cx="257.0" cy="39.6" r="2.2" fill="#ff0052"/>
<circle cx="363.3" cy="189.2" r="2.2" fill="#ff0052"/>
<circle cx="382.2" cy="157.7" r="2.2" fill="#0086fd"/>
<circle cx="391.4" cy="365.8" r="2.2" fill="#0088fc"/>
<circle cx="411.2" cy="279.0" r="2.2" fill="#dd00af"/>
<circle cx="395.8" cy="366.7" r="2.2" fill="#008bfb"/>
<circle cx="341.3" cy="68.8" r="2.2" fill="#0088fc"/>
<circle cx="397.1" cy="363.2" r="2.2" fill="#8b56e8"/>
<circle cx="387.2" cy="513.6" r="2.2" fill="#ff0055"/>
<circle cx="387.9" cy="451.5" r="2.2" fill="#008afb"/>
<circle cx="326.3" cy="67.9" r="2.2" fill="#c226c7"/>
<circle cx="433.3" cy="99.0" r="2.2" fill="#0087fc"/>
<circle cx="408.8" cy="246.3" r="2.2" fill="#ff005b"/>
<circle cx="395.2" cy="94.0" r="2.2" fill="#d30ab9"/>
<circle cx="427.1" cy="99.0" r="2.2" fill="#5f68f5"/>
<circle cx="386.6" cy="492.7" r="2.2" fill="#ff0054"/>
<circle cx="384.5" cy="420.4" r="2.2" fill="#0085fd"/>
<circle cx="405.7" cy="39.6" r="2.2" fill="#0089fb"/>
<circle cx="268.8" cy="39.2" r="2.2" fill="#ff0056"/>
<circle cx="393.4" cy="101.0" r="2.2" fill="#ff005b"/>
<circle cx="416.3" cy="275.8" r="2.2" fill="#0087fc"/>
<circle cx="411.2" cy="41.3" r="2.2" fill="#0087fc"/>
<circle cx="394.6" cy="187.6" r="2.2" fill="#0084fd"/>
<circle cx="386.6" cy="491.2" r="2.2" fill="#ff0059"/>
<circle cx="386.0" cy="421.9" r="2.2" fill="#ff0057"/>
<circle cx="380.5" cy="184.8" r="2.2" fill="#e100aa"/>
<circle cx="402.9" cy="215.0" r="2.2" fill="#ff005f"/>
<circle cx="372.9" cy="305.4" r="2.2" fill="#008afb"/>
<circle cx="387.1" cy="501.6" r="2.2" fill="#6268f4"/>
<circle cx="429.0" cy="101.7" r="2.2" fill="#0089fc"/>
<circle cx="239.9" cy="40.0" r="2.2" fill="#ff0057"/>
<circle cx="422.6" cy="128.5" r="2.2" fill="#0088fc"/>
<circle cx="426.3" cy="127.8" r="2.2" fill="#ff0059"/>
<circle cx="412.3" cy="187.6" r="2.2" fill="#0086fd"/>
<circle cx="374.3" cy="310.2" r="2.2" fill="#7d5ded"/>
<circle cx="411.1" cy="157.7" r="2.2" fill="#6766f3"/>
<circle cx="382.7" cy="427.0" r="2.2" fill="#ff0057"/>
<circle cx="415.3" cy="274.4" r="2.2" fill="#d110bb"/>
<circle cx="386.7" cy="538.7" r="2.2" fill="#ff0056"/>
<circle cx="405.1" cy="126.2" r="2.2" fill="#ff005d"/>
<circle cx="406.4" cy="48.9" r="2.2" fill="#0088fc"/>
<circle cx="392.3" cy="364.4" r="2.2" fill="#0088fc"/>
<circle cx="389.1" cy="402.5" r="2.2" fill="#ff0060"/>
<circle cx="232.7" cy="40.0" r="2.2" fill="#ff0053"/>
<circle cx="388.4" cy="305.7" r="2.2" fill="#0087fc"/>
<circle cx="464.3" cy="98.3" r="2.2" fill="#0089fc"/>
<circle cx="220.2" cy="40.0" r="2.2" fill="#ff0060"/>
<circle cx="403.5" cy="50.5" r="2.2" fill="#0089fc"/>
<circle cx="395.2" cy="333.2" r="2.2" fill="#576bf6"/>
<circle cx="378.1" cy="187.2" r="2.2" fill="#ff0053"/>
<circle cx="445.6" cy="99.0" r="2.2" fill="#0086fc"/>
<circle cx="408.9" cy="244.8" r="2.2" fill="#ff0065"/>
<circle cx="393.3" cy="370.3" r="2.2" fill="#0084fd"/>
<circle cx="375.5" cy="305.4" r="2.2" fill="#0088fc"/>
<circle cx="376.9" cy="305.4" r="2.2" fill="#c226c7"/>
<circle cx="404.8" cy="47.4" r="2.2" fill="#008afb"/>
<circle cx="379.4" cy="189.7" r="2.2" fill="#0084fd"/>
<circle cx="403.8" cy="33.4" r="2.2" fill="#0089fc"/>
<circle cx="417.1" cy="187.6" r="2.2" fill="#0088fc"/>
<circle cx="421.5" cy="163.2" r="2.2" fill="#ff0064"/>
<circle cx="403.8" cy="28.7" r="2.2" fill="#0085fd"/>
<circle cx="391.0" cy="187.6" r="2.2" fill="#0089fc"/>
<circle cx="392.0" cy="275.8" r="2.2" fill="#ed009a"/>
<circle cx="370.3" cy="69.5" r="2.2" fill="#008afb"/>
<circle cx="383.9" cy="156.0" r="2.2" fill="#0089fb"/>
<circle cx="430.2" cy="127.8" r="2.2" fill="#0087fc"/>
<circle cx="414.2" cy="39.6" r="2.2" fill="#0085fd"/>
<circle cx="405.1" cy="250.3" r="2.2" fill="#e000ab"/>
<circle cx="362.1" cy="189.6" r="2.2" fill="#ff005e"/>
<circle cx="389.0" cy="460.7" r="2.2" fill="#0086fd"/>
<circle cx="391.3" cy="361.6" r="2.2" fill="#0085fd"/>
<circle cx="413.6" cy="216.2" r="2.2" fill="#ff0052"/>
<circle cx="386.1" cy="305.7" r="2.2" fill="#0084fd"/>
<circle cx="285.3" cy="40.0" r="2.2" fill="#9c4be0"/>
<circle cx="334.9" cy="70.5" r="2.2" fill="#0089fc"/>
<circle cx="392.5" cy="365.8" r="2.2" fill="#0088fc"/>
<circle cx="370.8" cy="303.7" r="2.2" fill="#ff0054"/>
<circle cx="389.9" cy="445.3" r="2.2" fill="#0088fc"/>
<circle cx="397.5" cy="218.4" r="2.2" fill="#ff0056"/>
<circle cx="251.3" cy="39.2" r="2.2" fill="#ff005d"/>
<circle cx="409.0" cy="274.3" r="2.2" fill="#c820c3"/>
<circle cx="382.4" cy="394.0" r="2.2" fill="#e100ab"/>
<circle cx="398.3" cy="340.1" r="2.2" fill="#ff0054"/>
<circle cx="378.4" cy="98.3" r="2.2" fill="#ff005a"/>
<circle cx="390.3" cy="69.5" r="2.2" fill="#0084fd"/>
<circle cx="392.5" cy="367.4" r="2.2" fill="#008afb"/>
<circle cx="382.9" cy="396.1" r="2.2" fill="#ff0059"/>
<circle cx="406.6" cy="254.8" r="2.2" fill="#db00b1"/>
<circle cx="406.1" cy="248.0" r="2.2" fill="#ff005a"/>
<circle cx="445.5" cy="98.3" r="2.2" fill="#ff0064"/>
<circle cx="397.2" cy="277.5" r="2.2" fill="#0089fc"/>
<circle cx="421.2" cy="155.9" r="2.2" fill="#ff0058"/>
<circle cx="383.6" cy="157.7" r="2.2" fill="#008afb"/>
<circle cx="324.0" cy="70.4" r="2.2" fill="#0084fd"/>
<circle cx="277.8" cy="40.0" r="2.2" fill="#cd18bf"/>
<circle cx="402.1" cy="98.3" r="2.2" fill="#0084fd"/>
<circle cx="361.2" cy="67.0" r="2.2" fill="#ed009a"/>
<circle cx="374.3" cy="303.8" r="2.2" fill="#5e69f5"/>
<circle cx="406.5" cy="30.3" r="2.2" fill="#0086fd"/>
<circle cx="404.9" cy="128.2" r="2.2" fill="#0085fd"/>
<circle cx="382.5" cy="157.7" r="2.2" fill="#0087fc"/>
<circle cx="389.2" cy="459.2" r="2.2" fill="#0089fb"/>
<circle cx="386.6" cy="391.8" r="2.2" fill="#0087fc"/>
<circle cx="389.9" cy="397.1" r="2.2" fill="#ff0061"/>
<circle cx="366.9" cy="195.8" r="2.2" fill="#ff005e"/>
<circle cx="433.3" cy="186.9" r="2.2" fill="#0089fb"/>
<circle cx="275.1" cy="40.0" r="2.2" fill="#6567f3"/>
<circle cx="381.7" cy="395.4" r="2.2" fill="#ff0052"/>
<circle cx="396.4" cy="215.2" r="2.2" fill="#ff0059"/>
<circle cx="383.2" cy="418.8" r="2.2" fill="#008afb"/>
<circle cx="434.5" cy="95.7" r="2.2" fill="#ff0061"/>
<circle cx="363.3" cy="191.1" r="2.2" fill="#ff0055"/>
<circle cx="387.1" cy="543.1" r="2.2" fill="#ff0055"/>
<circle cx="392.0" cy="98.7" r="2.2" fill="#0089fb"/>
<circle cx="376.6" cy="302.0" r="2.2" fill="#596af6"/>
<circle cx="388.1" cy="446.8" r="2.2" fill="#008afb"/>
<circle cx="387.9" cy="463.8" r="2.2" fill="#0086fd"/>
<circle cx="366.7" cy="176.9" r="2.2" fill="#ff0060"/>
<circle cx="423.9" cy="98.7" r="2.2" fill="#ff0063"/>
<circle cx="426.3" cy="98.7" r="2.2" fill="#008bfb"/>
<circle cx="331.8" cy="65.8" r="2.2" fill="#0085fd"/>
<circle cx="403.7" cy="246.3" r="2.2" fill="#d409b9"/>
<circle cx="381.6" cy="364.4" r="2.1" fill="#ff0062"/>
<circle cx="412.6" cy="216.1" r="2.2" fill="#0088fc"/>
<circle cx="413.0" cy="305.1" r="2.2" fill="#0086fd"/>
<circle cx="423.4" cy="186.9" r="2.2" fill="#0089fb"/>
<circle cx="382.1" cy="181.2" r="2.2" fill="#dc00b0"/>
<circle cx="432.7" cy="101.7" r="2.2" fill="#0085fd"/>
<circle cx="398.8" cy="342.7" r="2.2" fill="#e500a5"/>
<circle cx="388.3" cy="425.3" r="2.2" fill="#ff005b"/>
<circle cx="395.6" cy="305.7" r="2.2" fill="#0085fd"/>
<circle cx="375.7" cy="307.1" r="2.2" fill="#ff005a"/>
<circle cx="394.5" cy="274.1" r="2.2" fill="#c523c5"/>
<circle cx="454.6" cy="98.3" r="2.2" fill="#ff0063"/>
<circle cx="405.0" cy="246.3" r="2.2" fill="#e200a9"/>
<circle cx="381.9" cy="394.0" r="2.2" fill="#e400a7"/>
<circle cx="266.7" cy="40.0" r="2.2" fill="#795fef"/>
<circle cx="398.6" cy="331.1" r="2.2" fill="#ed009a"/>
<circle cx="258.3" cy="42.1" r="2.2" fill="#ff0051"/>
<circle cx="406.6" cy="50.5" r="2.2" fill="#0089fb"/>
<circle cx="416.5" cy="274.6" r="2.2" fill="#dc00b0"/>
<circle cx="406.5" cy="131.7" r="2.2" fill="#0087fc"/>
<circle cx="391.8" cy="277.5" r="2.2" fill="#c720c3"/>
<circle cx="430.9" cy="187.6" r="2.2" fill="#0089fc"/>
<circle cx="389.2" cy="390.5" r="2.2" fill="#ff0059"/>
<circle cx="410.1" cy="38.3" r="2.2" fill="#0088fc"/>
<circle cx="408.4" cy="187.6" r="2.2" fill="#0089fc"/>
<circle cx="388.7" cy="394.0" r="2.2" fill="#ff0061"/>
<circle cx="428.3" cy="98.3" r="2.2" fill="#ff0060"/>
<circle cx="385.4" cy="395.4" r="2.2" fill="#ff005a"/>
<circle cx="424.4" cy="99.0" r="2.2" fill="#0087fc"/>
<circle cx="381.7" cy="246.3" r="2.2" fill="#d700b6"/>
<circle cx="368.5" cy="188.8" r="2.2" fill="#7760ef"/>
<circle cx="383.0" cy="364.4" r="2.1" fill="#ff005b"/>
<circle cx="386.7" cy="503.1" r="2.2" fill="#ff0064"/>
<circle cx="330.0" cy="67.8" r="2.2" fill="#ff0064"/>
<circle cx="429.6" cy="91.7" r="2.2" fill="#ff0053"/>
<circle cx="391.6" cy="364.4" r="2.2" fill="#0088fc"/>
<circle cx="385.4" cy="396.8" r="2.2" fill="#c820c3"/>
<circle cx="324.9" cy="70.4" r="2.2" fill="#0085fd"/>
<circle cx="387.1" cy="521.1" r="2.2" fill="#ff0058"/>
<circle cx="409.8" cy="156.4" r="2.2" fill="#7561f0"/>
<circle cx="406.5" cy="256.5" r="2.2" fill="#0088fc"/>
<circle cx="393.3" cy="187.6" r="2.2" fill="#0085fd"/>
<circle cx="395.2" cy="98.7" r="2.2" fill="#0087fc"/>
<circle cx="398.0" cy="324.5" r="2.2" fill="#ff0063"/>
<circle cx="372.1" cy="303.2" r="2.2" fill="#d014bd"/>
<circle cx="396.0" cy="334.9" r="2.2" fill="#0086fd"/>
<circle cx="387.2" cy="507.6" r="2.2" fill="#ff005a"/>
<circle cx="390.9" cy="423.5" r="2.3" fill="#0085fd"/>
<circle cx="402.9" cy="247.8" r="2.2" fill="#0087fc"/>
<circle cx="392.7" cy="267.3" r="2.2" fill="#6268f4"/>
<circle cx="428.4" cy="186.9" r="2.2" fill="#0086fd"/>
<circle cx="453.3" cy="99.0" r="2.2" fill="#0089fc"/>
<circle cx="398.6" cy="338.7" r="2.2" fill="#ff0052"/>
<circle cx="270.2" cy="40.0" r="2.2" fill="#ff0059"/>
<circle cx="398.1" cy="245.1" r="2.2" fill="#0084fd"/>
<circle cx="430.1" cy="98.7" r="2.2" fill="#0088fc"/>
<circle cx="407.8" cy="250.1" r="2.2" fill="#cc1ac0"/>
<circle cx="400.1" cy="218.5" r="2.2" fill="#0088fc"/>
<circle cx="392.4" cy="365.9" r="2.2" fill="#0087fc"/>
<circle cx="421.4" cy="127.8" r="2.2" fill="#008afb"/>
<circle cx="381.6" cy="187.2" r="2.2" fill="#9451e4"/>
<circle cx="375.6" cy="308.8" r="2.2" fill="#7262f0"/>
<circle cx="399.4" cy="305.1" r="2.2" fill="#0087fc"/>
<circle cx="403.2" cy="158.2" r="2.2" fill="#0087fc"/>
<circle cx="387.1" cy="478.2" r="2.2" fill="#ff0064"/>
<circle cx="459.1" cy="98.3" r="2.2" fill="#ff0064"/>
<circle cx="429.3" cy="98.7" r="2.2" fill="#ff0056"/>
<circle cx="387.2" cy="531.3" r="2.2" fill="#ff0059"/>
<circle cx="389.8" cy="400.2" r="2.2" fill="#ff005b"/>
<circle cx="404.4" cy="42.7" r="2.2" fill="#0085fd"/>
<circle cx="419.9" cy="156.4" r="2.2" fill="#e300a8"/>
<circle cx="258.4" cy="39.6" r="2.2" fill="#ff005d"/>
<circle cx="397.6" cy="334.9" r="2.2" fill="#d111bc"/>
<circle cx="421.9" cy="99.0" r="2.2" fill="#ff005e"/>
<circle cx="386.5" cy="485.4" r="2.2" fill="#ff0054"/>
<circle cx="402.3" cy="186.9" r="2.2" fill="#0087fc"/>
<circle cx="285.1" cy="39.2" r="2.2" fill="#805cec"/>
<circle cx="260.4" cy="39.2" r="2.2" fill="#e100ab"/>
<circle cx="411.5" cy="275.8" r="2.2" fill="#0087fc"/>
<circle cx="375.7" cy="394.0" r="2.2" fill="#7262f1"/>
<circle cx="337.4" cy="67.7" r="2.2" fill="#008afb"/>
<circle cx="426.1" cy="275.8" r="2.2" fill="#586af6"/>
<circle cx="388.3" cy="457.6" r="2.2" fill="#0084fd"/>
<circle cx="388.4" cy="427.0" r="2.2" fill="#ff005a"/>
<circle cx="429.4" cy="159.8" r="2.2" fill="#436ff8"/>
<circle cx="395.0" cy="338.2" r="2.2" fill="#4b6ef8"/>
<circle cx="236.5" cy="39.2" r="2.2" fill="#008afb"/>
<circle cx="426.2" cy="158.4" r="2.2" fill="#ff005e"/>
<circle cx="367.1" cy="185.7" r="2.2" fill="#ff0056"/>
<circle cx="245.1" cy="40.0" r="2.2" fill="#9451e5"/>
<circle cx="372.0" cy="187.2" r="2.2" fill="#ff0051"/>
<circle cx="388.2" cy="423.5" r="2.2" fill="#ff005a"/>
<circle cx="390.0" cy="394.0" r="2.2" fill="#ff0064"/>
<circle cx="400.2" cy="331.1" r="2.2" fill="#e900a0"/>
<circle cx="401.5" cy="213.2" r="2.2" fill="#ff0053"/>
<circle cx="381.7" cy="184.8" r="2.2" fill="#ff0058"/>
<circle cx="412.1" cy="40.7" r="2.2" fill="#008afb"/>
<circle cx="406.4" cy="244.4" r="2.2" fill="#3e70f9"/>
<circle cx="387.0" cy="492.7" r="2.2" fill="#ff0052"/>
<circle cx="368.1" cy="182.7" r="2.2" fill="#ff0064"/>
<circle cx="395.1" cy="331.6" r="2.2" fill="#7f5ded"/>
<circle cx="389.9" cy="389.3" r="2.2" fill="#ff0059"/>
<circle cx="461.7" cy="99.0" r="2.2" fill="#556bf6"/>
<circle cx="398.4" cy="275.8" r="2.2" fill="#c326c7"/>
<circle cx="392.7" cy="357.1" r="2.2" fill="#0086fd"/>
<circle cx="459.3" cy="99.0" r="2.2" fill="#ff005f"/>
<circle cx="372.9" cy="68.8" r="2.2" fill="#0084fd"/>
<circle cx="417.8" cy="216.4" r="2.2" fill="#ff005f"/>
<circle cx="394.9" cy="367.2" r="2.2" fill="#0087fc"/>
<circle cx="415.0" cy="217.3" r="2.2" fill="#ff0055"/>
<circle cx="390.1" cy="443.8" r="2.2" fill="#0088fc"/>
<circle cx="328.7" cy="67.8" r="2.2" fill="#c226c7"/>
<circle cx="342.6" cy="68.8" r="2.2" fill="#7461f0"/>
<circle cx="410.6" cy="98.3" r="2.2" fill="#0087fc"/>
<circle cx="376.1" cy="296.5" r="2.2" fill="#ec009c"/>
<circle cx="407.5" cy="248.2" r="2.2" fill="#c820c3"/>
<circle cx="275.1" cy="39.2" r="2.2" fill="#ff0064"/>
<circle cx="465.8" cy="99.0" r="2.2" fill="#ff0052"/>
<circle cx="369.5" cy="187.2" r="2.2" fill="#ff005a"/>
<circle cx="389.6" cy="394.0" r="2.2" fill="#e700a3"/>
<circle cx="388.9" cy="453.0" r="2.2" fill="#0087fc"/>
<circle cx="391.8" cy="357.1" r="2.2" fill="#0084fd"/>
<circle cx="384.3" cy="246.3" r="2.2" fill="#526cf7"/>
<circle cx="411.6" cy="277.3" r="2.2" fill="#d30dba"/>
<circle cx="230.2" cy="40.0" r="2.2" fill="#6a65f2"/>
<circle cx="384.7" cy="423.5" r="2.2" fill="#ff005c"/>
<circle cx="411.4" cy="37.9" r="2.2" fill="#0088fc"/>
<circle cx="432.0" cy="186.9" r="2.2" fill="#0089fb"/>
<circle cx="370.5" cy="68.8" r="2.2" fill="#0087fc"/>
<circle cx="259.9" cy="42.1" r="2.2" fill="#7262f0"/>
<circle cx="390.2" cy="395.5" r="2.2" fill="#ff005d"/>
<circle cx="382.1" cy="187.2" r="2.2" fill="#d110bb"/>
<circle cx="462.9" cy="99.0" r="2.2" fill="#ff005d"/>
<circle cx="391.7" cy="354.1" r="2.2" fill="#0084fd"/>
<circle cx="406.7" cy="36.5" r="2.2" fill="#0088fc"/>
<circle cx="369.4" cy="69.5" r="2.2" fill="#0086fc"/>
<circle cx="227.5" cy="39.2" r="2.2" fill="#d110bb"/>
<circle cx="365.8" cy="184.2" r="2.2" fill="#ff0058"/>
<circle cx="394.9" cy="186.9" r="2.2" fill="#0084fd"/>
<circle cx="412.8" cy="277.3" r="2.2" fill="#576bf6"/>
<circle cx="351.3" cy="69.5" r="2.2" fill="#9451e5"/>
<circle cx="393.2" cy="365.9" r="2.2" fill="#0089fb"/>
<circle cx="256.5" cy="40.0" r="2.2" fill="#8f54e7"/>
<circle cx="383.6" cy="423.5" r="2.2" fill="#ff0063"/>
<circle cx="365.9" cy="190.3" r="2.2" fill="#d013bc"/>
<circle cx="394.8" cy="305.7" r="2.2" fill="#0084fd"/>
<circle cx="380.5" cy="189.7" r="2.2" fill="#ff005e"/>
<circle cx="421.0" cy="159.5" r="2.2" fill="#d111bb"/>
<circle cx="389.0" cy="451.5" r="2.2" fill="#0086fd"/>
<circle cx="406.8" cy="99.0" r="2.2" fill="#ff005b"/>
<circle cx="380.7" cy="187.2" r="2.2" fill="#9f4adf"/>
<circle cx="409.2" cy="277.3" r="2.2" fill="#d012bc"/>
<circle cx="406.3" cy="219.8" r="2.2" fill="#ff0053"/>
<circle cx="277.7" cy="39.2" r="2.2" fill="#0087fc"/>
<circle cx="413.4" cy="40.0" r="2.2" fill="#0087fc"/>
<circle cx="332.0" cy="60.7" r="2.2" fill="#7d5eed"/>
<circle cx="373.2" cy="185.2" r="2.2" fill="#7f5ded"/>
<circle cx="364.3" cy="191.8" r="2.2" fill="#3f70f9"/>
<circle cx="390.1" cy="398.6" r="2.2" fill="#ff0052"/>
<circle cx="384.7" cy="157.7" r="2.2" fill="#0085fd"/>
<circle cx="387.9" cy="456.1" r="2.2" fill="#0087fc"/>
<circle cx="370.9" cy="183.7" r="2.2" fill="#0085fd"/>
<circle cx="410.7" cy="187.6" r="2.2" fill="#0086fc"/>
<circle cx="382.5" cy="421.7" r="2.2" fill="#ff005c"/>
<circle cx="397.6" cy="216.8" r="2.2" fill="#0088fc"/>
<circle cx="350.9" cy="187.2" r="2.2" fill="#ea009f"/>
<circle cx="429.1" cy="95.7" r="2.2" fill="#0089fb"/>
<circle cx="428.3" cy="187.6" r="2.2" fill="#0087fc"/>
<circle cx="420.7" cy="187.6" r="2.2" fill="#0086fd"/>
<circle cx="397.0" cy="99.0" r="2.2" fill="#ff0052"/>
<circle cx="409.0" cy="35.9" r="2.2" fill="#008afb"/>
<circle cx="420.2" cy="127.8" r="2.2" fill="#ff005d"/>
<circle cx="394.5" cy="328.6" r="2.2" fill="#496ef8"/>
<circle cx="376.6" cy="300.3" r="2.2" fill="#0088fc"/>
<circle cx="364.3" cy="188.8" r="2.2" fill="#ff0057"/>
<circle cx="378.8" cy="69.5" r="2.2" fill="#008afb"/>
<circle cx="397.4" cy="68.8" r="2.2" fill="#008afb"/>
<circle cx="388.6" cy="421.7" r="2.2" fill="#ff005f"/>
<circle cx="382.3" cy="193.2" r="2.2" fill="#0089fb"/>
<circle cx="406.2" cy="215.3" r="2.2" fill="#ff0061"/>
<circle cx="408.0" cy="38.1" r="2.2" fill="#008afb"/>
<circle cx="257.3" cy="42.1" r="2.2" fill="#ff0059"/>
<circle cx="406.5" cy="33.4" r="2.2" fill="#0089fc"/>
<circle cx="387.5" cy="68.8" r="2.2" fill="#0085fd"/>
<circle cx="391.7" cy="370.3" r="2.2" fill="#0087fc"/>
<circle cx="385.7" cy="335.3" r="2.2" fill="#008afb"/>
<circle cx="431.7" cy="101.7" r="2.2" fill="#008afb"/>
<circle cx="402.8" cy="244.8" r="2.2" fill="#9e4ae0"/>
<circle cx="395.7" cy="275.8" r="2.2" fill="#9352e5"/>
<circle cx="389.0" cy="68.8" r="2.2" fill="#0085fd"/>
<circle cx="398.2" cy="157.7" r="2.2" fill="#0088fc"/>
<circle cx="380.4" cy="307.6" r="2.2" fill="#c720c3"/>
<circle cx="417.7" cy="276.5" r="2.2" fill="#0086fd"/>
<circle cx="389.4" cy="392.2" r="2.2" fill="#ff0057"/>
<circle cx="429.3" cy="98.3" r="2.2" fill="#ff0060"/>
<circle cx="424.7" cy="158.5" r="2.2" fill="#bf29c9"/>
<circle cx="399.3" cy="98.3" r="2.2" fill="#ff005c"/>
<circle cx="376.7" cy="335.3" r="2.2" fill="#0085fd"/>
<circle cx="430.4" cy="95.7" r="2.2" fill="#0088fc"/>
<circle cx="396.3" cy="68.8" r="2.2" fill="#0084fd"/>
<circle cx="399.0" cy="338.0" r="2.2" fill="#e200aa"/>
<circle cx="402.5" cy="218.6" r="2.2" fill="#ff005b"/>
<circle cx="419.8" cy="128.2" r="2.2" fill="#ea009e"/>
<circle cx="395.5" cy="98.7" r="2.2" fill="#8c56e8"/>
<circle cx="405.9" cy="157.0" r="2.2" fill="#0084fd"/>
<circle cx="337.4" cy="70.5" r="2.2" fill="#ff0064"/>
<circle cx="380.5" cy="246.3" r="2.2" fill="#ff0054"/>
<circle cx="251.5" cy="40.0" r="2.2" fill="#ff005c"/>
<circle cx="434.5" cy="187.6" r="2.2" fill="#0086fd"/>
<circle cx="396.0" cy="338.5" r="2.2" fill="#ce16be"/>
<circle cx="421.0" cy="156.0" r="2.2" fill="#7362f0"/>
<circle cx="417.4" cy="217.2" r="2.2" fill="#ff0056"/>
<circle cx="368.2" cy="190.3" r="2.2" fill="#ff005c"/>
<circle cx="405.6" cy="242.9" r="2.2" fill="#ff005c"/>
<circle cx="412.2" cy="186.9" r="2.2" fill="#0085fd"/>
<circle cx="394.2" cy="330.2" r="2.2" fill="#ce17be"/>
<circle cx="418.8" cy="216.5" r="2.2" fill="#ff0056"/>
<circle cx="425.2" cy="97.2" r="2.2" fill="#ff0058"/>
<circle cx="385.4" cy="159.4" r="2.2" fill="#0086fd"/>
<circle cx="409.1" cy="275.8" r="2.2" fill="#466ff8"/>
<circle cx="380.8" cy="423.5" r="2.2" fill="#ff0065"/>
<circle cx="418.4" cy="186.9" r="2.2" fill="#0089fc"/>
<circle cx="364.9" cy="70.9" r="2.2" fill="#ff0064"/>
<circle cx="401.3" cy="216.8" r="2.2" fill="#ff0062"/>
<circle cx="404.6" cy="158.3" r="2.2" fill="#008afb"/>
<circle cx="382.8" cy="430.5" r="2.2" fill="#0084fd"/>
<circle cx="371.7" cy="394.0" r="2.2" fill="#e300a8"/>
<circle cx="384.6" cy="184.8" r="2.2" fill="#ff0062"/>
<circle cx="374.2" cy="69.5" r="2.2" fill="#0089fb"/>
<circle cx="392.5" cy="69.5" r="2.2" fill="#0088fc"/>
<circle cx="386.7" cy="507.6" r="2.2" fill="#ff0052"/>
<circle cx="366.8" cy="178.7" r="2.2" fill="#008afb"/>
<circle cx="406.2" cy="241.2" r="2.2" fill="#c127c8"/>
<circle cx="415.3" cy="277.2" r="2.2" fill="#e500a6"/>
<circle cx="405.2" cy="130.2" r="2.2" fill="#0089fc"/>
<circle cx="382.7" cy="418.2" r="2.2" fill="#ff005f"/>
<circle cx="319.0" cy="68.4" r="2.2" fill="#8759ea"/>
<circle cx="388.0" cy="459.2" r="2.2" fill="#0087fc"/>
<circle cx="418.9" cy="276.3" r="2.2" fill="#6267f4"/>
<circle cx="408.6" cy="126.2" r="2.2" fill="#0088fc"/>
<circle cx="387.1" cy="489.8" r="2.2" fill="#ff0052"/>
<circle cx="383.5" cy="425.1" r="2.2" fill="#008afb"/>
<circle cx="389.5" cy="157.7" r="2.2" fill="#0089fc"/>
<circle cx="397.6" cy="331.1" r="2.2" fill="#ff005b"/>
<circle cx="396.4" cy="331.3" r="2.2" fill="#e700a4"/>
<circle cx="399.9" cy="216.8" r="2.2" fill="#0086fd"/>
<circle cx="327.4" cy="67.8" r="2.2" fill="#008afb"/>
<circle cx="370.7" cy="185.5" r="2.2" fill="#4f6df7"/>
<circle cx="418.3" cy="187.6" r="2.2" fill="#0084fd"/>
<circle cx="390.7" cy="98.3" r="2.2" fill="#8f54e7"/>
<circle cx="411.2" cy="277.4" r="2.2" fill="#9153e6"/>
<circle cx="404.8" cy="30.3" r="2.2" fill="#0087fc"/>
<circle cx="280.2" cy="39.2" r="2.2" fill="#ff0063"/>
<circle cx="452.0" cy="128.2" r="2.2" fill="#9f49df"/>
<circle cx="373.9" cy="68.8" r="2.2" fill="#0086fd"/>
<circle cx="245.3" cy="39.2" r="2.2" fill="#c127c8"/>
<circle cx="359.8" cy="71.0" r="2.2" fill="#0087fc"/>
<circle cx="221.3" cy="39.2" r="2.2" fill="#596af6"/>
<circle cx="393.1" cy="277.6" r="2.2" fill="#0085fd"/>
<circle cx="393.4" cy="274.1" r="2.2" fill="#0089fc"/>
<circle cx="366.7" cy="182.1" r="2.2" fill="#7f5ded"/>
<circle cx="367.2" cy="184.2" r="2.2" fill="#0089fc"/>
<circle cx="322.6" cy="69.1" r="2.2" fill="#ff005f"/>
<circle cx="403.8" cy="130.2" r="2.2" fill="#ff0064"/>
<circle cx="434.6" cy="99.0" r="2.2" fill="#ff0065"/>
<circle cx="366.9" cy="68.8" r="2.2" fill="#0089fc"/>
<circle cx="421.2" cy="149.0" r="2.2" fill="#eb009e"/>
<circle cx="430.0" cy="95.0" r="2.2" fill="#0085fd"/>
<circle cx="398.9" cy="69.5" r="2.2" fill="#0084fd"/>
<circle cx="429.3" cy="161.9" r="2.2" fill="#ff0054"/>
<circle cx="371.0" cy="364.4" r="2.1" fill="#ff0059"/>
<circle cx="389.7" cy="305.7" r="2.2" fill="#008afb"/>
<circle cx="405.4" cy="45.8" r="2.2" fill="#0087fc"/>
<circle cx="379.9" cy="364.4" r="2.1" fill="#ff0061"/>
<circle cx="384.7" cy="99.0" r="2.2" fill="#008bfb"/>
<circle cx="388.5" cy="157.7" r="2.2" fill="#0088fc"/>
<circle cx="407.5" cy="216.8" r="2.2" fill="#ff0054"/>
<circle cx="380.1" cy="68.8" r="2.2" fill="#0089fb"/>
<circle cx="401.3" cy="220.3" r="2.2" fill="#0085fd"/>
<circle cx="392.6" cy="354.1" r="2.2" fill="#0089fb"/>
<circle cx="376.4" cy="308.9" r="2.2" fill="#0087fc"/>
<circle cx="417.4" cy="159.8" r="2.2" fill="#9c4ce1"/>
<circle cx="357.8" cy="71.1" r="2.2" fill="#ff0055"/>
<circle cx="386.5" cy="534.3" r="2.2" fill="#ff0059"/>
<circle cx="415.6" cy="305.1" r="2.2" fill="#008afb"/>
<circle cx="380.8" cy="426.6" r="2.2" fill="#ff0061"/>
<circle cx="436.7" cy="98.3" r="2.2" fill="#0086fd"/>
<circle cx="392.4" cy="358.5" r="2.2" fill="#0087fc"/>
<circle cx="389.2" cy="462.3" r="2.2" fill="#0085fd"/>
<circle cx="397.3" cy="338.7" r="2.2" fill="#c91ec2"/>
<circle cx="329.9" cy="69.1" r="2.2" fill="#0084fd"/>
<circle cx="239.9" cy="39.2" r="2.2" fill="#486ef8"/>
<circle cx="363.7" cy="71.2" r="2.2" fill="#ff0056"/>
<circle cx="383.5" cy="421.9" r="2.2" fill="#ff0055"/>
<circle cx="376.2" cy="312.4" r="2.2" fill="#ff0063"/>
<circle cx="411.1" cy="159.1" r="2.2" fill="#d408b9"/>
<circle cx="398.0" cy="331.4" r="2.2" fill="#ce16be"/>
<circle cx="331.1" cy="70.8" r="2.2" fill="#c028c9"/>
<circle cx="366.8" cy="187.2" r="2.2" fill="#9352e5"/>
<circle cx="362.5" cy="71.2" r="2.2" fill="#ff005b"/>
<circle cx="404.6" cy="33.4" r="2.2" fill="#0087fc"/>
<circle cx="373.2" cy="308.8" r="2.2" fill="#0089fb"/>
<circle cx="394.3" cy="333.3" r="2.2" fill="#ff0059"/>
<circle cx="414.8" cy="157.7" r="2.2" fill="#9f4adf"/>
<circle cx="412.7" cy="127.8" r="2.2" fill="#ff0064"/>
<circle cx="393.0" cy="360.0" r="2.2" fill="#008afb"/>
<circle cx="427.9" cy="98.7" r="2.2" fill="#ff0054"/>
<circle cx="320.1" cy="70.3" r="2.2" fill="#e200aa"/>
<circle cx="384.1" cy="159.4" r="2.2" fill="#0089fc"/>
<circle cx="413.7" cy="187.2" r="2.2" fill="#ee0099"/>
<circle cx="246.6" cy="39.2" r="2.2" fill="#835beb"/>
<circle cx="407.1" cy="187.6" r="2.2" fill="#0085fd"/>
<circle cx="426.4" cy="128.5" r="2.2" fill="#e100ab"/>
<circle cx="332.4" cy="70.5" r="2.2" fill="#dc00b0"/>
<circle cx="395.9" cy="187.6" r="2.2" fill="#0085fd"/>
<circle cx="444.2" cy="98.3" r="2.2" fill="#496ef8"/>
<circle cx="391.0" cy="98.7" r="2.2" fill="#ff005a"/>
<circle cx="408.0" cy="277.3" r="2.2" fill="#ea00a0"/>
<circle cx="387.3" cy="420.4" r="2.2" fill="#0084fd"/>
<circle cx="332.8" cy="69.1" r="2.2" fill="#5a6af6"/>
<circle cx="412.7" cy="275.8" r="2.2" fill="#0089fc"/>
<circle cx="423.8" cy="100.0" r="2.2" fill="#ff0056"/>
<circle cx="399.2" cy="244.6" r="2.2" fill="#0086fd"/>
<circle cx="398.7" cy="334.9" r="2.2" fill="#ff005b"/>
<circle cx="413.3" cy="159.1" r="2.2" fill="#7760ef"/>
<circle cx="463.3" cy="98.3" r="2.2" fill="#7860ef"/>
<circle cx="379.4" cy="308.9" r="2.2" fill="#0084fd"/>
<circle cx="366.6" cy="189.0" r="2.2" fill="#ff0063"/>
<circle cx="386.4" cy="394.0" r="2.2" fill="#e700a3"/>
<circle cx="396.0" cy="333.1" r="2.2" fill="#e700a3"/>
<circle cx="418.6" cy="129.6" r="2.2" fill="#db00b1"/>
<circle cx="449.2" cy="99.0" r="2.2" fill="#ff0060"/>
<circle cx="424.6" cy="186.9" r="2.2" fill="#0085fd"/>
<circle cx="216.4" cy="39.2" r="2.2" fill="#8e55e7"/>
<circle cx="377.9" cy="189.3" r="2.2" fill="#7b5eee"/>
<circle cx="320.2" cy="67.9" r="2.2" fill="#ec009c"/>
<circle cx="387.0" cy="504.6" r="2.2" fill="#ff0063"/>
<circle cx="403.8" cy="213.2" r="2.2" fill="#ff0058"/>
<circle cx="387.0" cy="537.2" r="2.2" fill="#ff005e"/>
<circle cx="392.1" cy="98.3" r="2.2" fill="#008afb"/>
<circle cx="408.0" cy="98.3" r="2.2" fill="#ff0063"/>
<circle cx="392.2" cy="99.0" r="2.2" fill="#ff0058"/>
<circle cx="415.5" cy="98.3" r="2.2" fill="#ff005e"/>
<circle cx="331.2" cy="75.9" r="2.2" fill="#c91ec2"/>
<circle cx="387.0" cy="99.0" r="2.2" fill="#ff0064"/>
<circle cx="421.3" cy="275.8" r="2.2" fill="#596af6"/>
<circle cx="414.2" cy="98.3" r="2.2" fill="#ff005b"/>
<circle cx="367.1" cy="190.3" r="2.2" fill="#ff005c"/>
<circle cx="387.0" cy="426.6" r="2.2" fill="#ff0062"/>
<circle cx="386.5" cy="501.6" r="2.2" fill="#ff0062"/>
<circle cx="417.0" cy="157.7" r="2.2" fill="#7063f1"/>
<circle cx="381.6" cy="307.1" r="2.2" fill="#ff0058"/>
<circle cx="397.9" cy="326.2" r="2.2" fill="#ff005d"/>
<circle cx="384.3" cy="394.0" r="2.2" fill="#ff005d"/>
<circle cx="250.3" cy="39.2" r="2.2" fill="#9e4ae0"/>
<circle cx="391.8" cy="371.8" r="2.2" fill="#0089fb"/>
<circle cx="364.3" cy="305.4" r="2.2" fill="#ff0058"/>
<circle cx="386.6" cy="541.6" r="2.2" fill="#0087fc"/>
<circle cx="395.4" cy="100.2" r="2.2" fill="#ff005c"/>
<circle cx="390.3" cy="460.7" r="2.2" fill="#0088fc"/>
<circle cx="425.7" cy="187.6" r="2.2" fill="#835beb"/>
<circle cx="381.5" cy="305.4" r="2.2" fill="#dd00af"/>
<circle cx="390.2" cy="457.6" r="2.2" fill="#0085fd"/>
<circle cx="402.6" cy="243.4" r="2.2" fill="#0087fc"/>
<circle cx="382.9" cy="68.8" r="2.2" fill="#0084fd"/>
<circle cx="417.0" cy="98.3" r="2.2" fill="#0084fd"/>
<circle cx="265.4" cy="39.2" r="2.2" fill="#ff0054"/>
<circle cx="430.3" cy="98.7" r="2.2" fill="#ff0057"/>
<circle cx="364.7" cy="185.7" r="2.2" fill="#cb1cc1"/>
<circle cx="387.0" cy="481.1" r="2.2" fill="#ff005f"/>
<circle cx="253.8" cy="39.2" r="2.2" fill="#ff0064"/>
<circle cx="381.7" cy="334.6" r="2.2" fill="#0084fd"/>
<circle cx="419.7" cy="131.8" r="2.2" fill="#ff0059"/>
<circle cx="380.6" cy="334.6" r="2.2" fill="#0087fc"/>
<circle cx="413.8" cy="277.3" r="2.2" fill="#c721c4"/>
<circle cx="363.5" cy="67.0" r="2.2" fill="#ff0064"/>
<circle cx="271.6" cy="39.2" r="2.2" fill="#ff0065"/>
<circle cx="395.5" cy="101.8" r="2.2" fill="#0084fd"/>
<circle cx="384.7" cy="421.9" r="2.2" fill="#0084fd"/>
<circle cx="406.2" cy="242.4" r="2.2" fill="#da00b3"/>
<circle cx="429.7" cy="157.3" r="2.2" fill="#e600a5"/>
<circle cx="438.0" cy="127.8" r="2.2" fill="#0086fc"/>
<circle cx="386.2" cy="453.0" r="2.2" fill="#ff005b"/>
<circle cx="357.3" cy="187.2" r="2.2" fill="#c523c5"/>
<circle cx="389.4" cy="388.8" r="2.2" fill="#ff005b"/>
<circle cx="280.4" cy="40.0" r="2.2" fill="#ff005e"/>
<circle cx="406.6" cy="236.1" r="2.2" fill="#0088fc"/>
<circle cx="407.3" cy="156.6" r="2.2" fill="#e000ac"/>
<circle cx="395.0" cy="95.5" r="2.2" fill="#0086fd"/>
<circle cx="394.9" cy="334.9" r="2.2" fill="#7e5ded"/>
<circle cx="357.8" cy="305.4" r="2.2" fill="#ff0059"/>
<circle cx="338.6" cy="69.1" r="2.2" fill="#ff0060"/>
<circle cx="433.5" cy="157.7" r="2.2" fill="#ff0065"/>
<circle cx="386.6" cy="547.5" r="2.2" fill="#ff0063"/>
<circle cx="401.3" cy="333.5" r="2.2" fill="#e300a8"/>
<circle cx="335.2" cy="69.1" r="2.2" fill="#cc19bf"/>
<circle cx="435.7" cy="99.0" r="2.2" fill="#0089fb"/>
<circle cx="394.6" cy="423.5" r="2.3" fill="#0087fc"/>
<circle cx="391.3" cy="364.4" r="2.2" fill="#008afb"/>
<circle cx="431.4" cy="95.7" r="2.2" fill="#ff0065"/>
<circle cx="392.0" cy="101.0" r="2.2" fill="#ff0053"/>
<circle cx="409.5" cy="98.3" r="2.2" fill="#ff0052"/>
<circle cx="366.6" cy="305.4" r="2.2" fill="#ff0055"/>
<circle cx="386.8" cy="184.8" r="2.2" fill="#ff0062"/>
<circle cx="401.3" cy="215.0" r="2.2" fill="#ff0055"/>
<circle cx="387.2" cy="305.7" r="2.2" fill="#0085fd"/>
<circle cx="380.5" cy="335.3" r="2.2" fill="#008afb"/>
<circle cx="381.6" cy="69.5" r="2.2" fill="#0086fd"/>
<circle cx="406.4" cy="44.3" r="2.2" fill="#0087fc"/>
<circle cx="380.5" cy="421.9" r="2.2" fill="#ff0059"/>
<circle cx="383.1" cy="426.6" r="2.2" fill="#ff0054"/>
<circle cx="365.0" cy="69.1" r="2.2" fill="#ff0060"/>
<circle cx="402.2" cy="157.3" r="2.2" fill="#0089fb"/>
<circle cx="390.7" cy="99.0" r="2.2" fill="#ff0059"/>
<circle cx="389.3" cy="335.3" r="2.2" fill="#0088fc"/>
<circle cx="243.8" cy="39.2" r="2.2" fill="#ff0064"/>
<circle cx="386.6" cy="537.2" r="2.2" fill="#ff005d"/>
<circle cx="367.4" cy="179.9" r="2.2" fill="#ff005c"/>
<circle cx="363.2" cy="183.4" r="2.2" fill="#ff005f"/>
<circle cx="322.6" cy="67.9" r="2.2" fill="#ff0052"/>
<circle cx="381.8" cy="99.0" r="2.2" fill="#ff005c"/>
<circle cx="403.8" cy="38.0" r="2.2" fill="#0087fc"/>
<circle cx="241.1" cy="39.2" r="2.2" fill="#ff0051"/>
<circle cx="434.1" cy="97.2" r="2.2" fill="#ff005f"/>
<circle cx="367.7" cy="305.4" r="2.2" fill="#ff0062"/>
<circle cx="387.2" cy="532.8" r="2.2" fill="#ff0062"/>
<circle cx="367.6" cy="183.6" r="2.2" fill="#ff005c"/>
<circle cx="426.5" cy="97.2" r="2.2" fill="#ff0062"/>
<circle cx="395.7" cy="245.8" r="2.2" fill="#008afb"/>
<circle cx="383.1" cy="392.6" r="2.2" fill="#0086fd"/>
<circle cx="378.1" cy="303.7" r="2.2" fill="#466ff8"/>
<circle cx="273.8" cy="39.2" r="2.2" fill="#ff005c"/>
<circle cx="377.9" cy="302.1" r="2.2" fill="#ff0056"/>
<circle cx="394.7" cy="98.7" r="2.2" fill="#0088fc"/>
<circle cx="411.4" cy="274.3" r="2.2" fill="#526cf7"/>
<circle cx="423.0" cy="99.0" r="2.2" fill="#ff005e"/>
<circle cx="435.4" cy="127.8" r="2.2" fill="#0089fc"/>
<circle cx="392.7" cy="279.3" r="2.2" fill="#ff0064"/>
<circle cx="404.0" cy="220.4" r="2.2" fill="#ff005f"/>
<circle cx="387.0" cy="546.0" r="2.2" fill="#0089fc"/>
<circle cx="410.1" cy="40.9" r="2.2" fill="#008afb"/>
<circle cx="414.6" cy="159.1" r="2.2" fill="#8a57e9"/>
<circle cx="385.5" cy="246.3" r="2.2" fill="#ff0058"/>
<circle cx="413.2" cy="99.0" r="2.2" fill="#ff005b"/>
<circle cx="407.5" cy="215.4" r="2.2" fill="#ff0056"/>
<circle cx="403.8" cy="48.9" r="2.2" fill="#0087fc"/>
<circle cx="403.5" cy="30.3" r="2.2" fill="#0087fc"/>
<circle cx="411.5" cy="217.5" r="2.2" fill="#ff005c"/>
<circle cx="408.3" cy="35.2" r="2.2" fill="#0086fd"/>
<circle cx="371.7" cy="68.8" r="2.2" fill="#0088fc"/>
<circle cx="429.4" cy="107.4" r="2.2" fill="#ff0058"/>
<circle cx="367.2" cy="181.8" r="2.2" fill="#0088fc"/>
<circle cx="382.8" cy="389.8" r="2.2" fill="#0086fd"/>
<circle cx="429.1" cy="98.7" r="2.2" fill="#0087fc"/>
<circle cx="415.0" cy="156.3" r="2.2" fill="#7262f0"/>
<circle cx="403.2" cy="305.1" r="2.2" fill="#0089fb"/>
<circle cx="397.1" cy="305.7" r="2.2" fill="#0086fd"/>
<circle cx="346.0" cy="187.2" r="2.2" fill="#ff0053"/>
<circle cx="432.9" cy="98.3" r="2.2" fill="#ff0065"/>
<circle cx="395.5" cy="101.0" r="2.2" fill="#0087fc"/>
<circle cx="406.7" cy="31.8" r="2.2" fill="#008afb"/>
<circle cx="386.3" cy="69.5" r="2.2" fill="#008afb"/>
<circle cx="395.7" cy="274.1" r="2.2" fill="#456ff8"/>
<circle cx="398.1" cy="274.3" r="2.2" fill="#845aeb"/>
<circle cx="404.7" cy="99.0" r="2.2" fill="#ff0065"/>
<circle cx="372.0" cy="184.8" r="2.2" fill="#ff0055"/>
<circle cx="367.4" cy="192.7" r="2.2" fill="#6068f4"/>
<circle cx="435.7" cy="98.3" r="2.2" fill="#ff0059"/>
<circle cx="418.3" cy="99.0" r="2.2" fill="#0084fd"/>
<circle cx="267.9" cy="39.2" r="2.2" fill="#ff0052"/>
<circle cx="391.8" cy="365.9" r="2.2" fill="#0085fd"/>
<circle cx="401.5" cy="218.6" r="2.2" fill="#0087fc"/>
<circle cx="384.7" cy="426.6" r="2.2" fill="#ff0063"/>
<circle cx="399.1" cy="248.1" r="2.2" fill="#0087fc"/>
<circle cx="437.5" cy="157.7" r="2.2" fill="#3c71f9"/>
<circle cx="382.2" cy="185.8" r="2.2" fill="#ff005e"/>
<circle cx="379.7" cy="157.7" r="2.2" fill="#0089fb"/>
<circle cx="406.4" cy="241.2" r="2.2" fill="#e500a6"/>
<circle cx="419.7" cy="99.0" r="2.2" fill="#0084fd"/>
<circle cx="383.3" cy="184.8" r="2.2" fill="#ff005b"/>
<circle cx="390.8" cy="100.8" r="2.2" fill="#0089fc"/>
<circle cx="429.5" cy="105.7" r="2.2" fill="#d602b6"/>
<circle cx="422.4" cy="158.9" r="2.2" fill="#5d69f5"/>
<circle cx="367.0" cy="190.7" r="2.2" fill="#9352e5"/>
<circle cx="392.3" cy="355.6" r="2.2" fill="#0088fc"/>
<circle cx="412.7" cy="274.3" r="2.2" fill="#586bf6"/>
<circle cx="330.9" cy="62.3" r="2.2" fill="#c226c7"/>
<circle cx="386.6" cy="518.1" r="2.2" fill="#ff0065"/>
<circle cx="410.6" cy="99.0" r="2.2" fill="#ff005a"/>
<circle cx="351.0" cy="68.8" r="2.2" fill="#ce17be"/>
<circle cx="409.9" cy="159.0" r="2.2" fill="#df00ad"/>
<circle cx="416.5" cy="217.2" r="2.2" fill="#ff0061"/>
<circle cx="382.4" cy="191.8" r="2.2" fill="#566bf6"/>
<circle cx="393.1" cy="368.8" r="2.2" fill="#0088fc"/>
<circle cx="419.9" cy="124.6" r="2.2" fill="#0089fc"/>
<circle cx="414.9" cy="127.8" r="2.2" fill="#0086fd"/>
<circle cx="375.6" cy="185.2" r="2.2" fill="#ff0058"/>
<circle cx="393.6" cy="68.8" r="2.2" fill="#0088fc"/>
<circle cx="374.5" cy="189.2" r="2.2" fill="#ff005d"/>
<circle cx="286.8" cy="40.0" r="2.2" fill="#815bec"/>
<circle cx="427.7" cy="95.7" r="2.2" fill="#ff005c"/>
<circle cx="376.1" cy="314.2" r="2.2" fill="#e500a5"/>
<circle cx="423.8" cy="101.4" r="2.2" fill="#ff0066"/>
<circle cx="387.2" cy="515.1" r="2.2" fill="#ff005b"/>
<circle cx="391.8" cy="246.3" r="2.2" fill="#ff0056"/>
<circle cx="431.6" cy="216.8" r="2.2" fill="#ff0056"/>
<circle cx="378.1" cy="394.4" r="2.2" fill="#7561f0"/>
<circle cx="393.7" cy="361.6" r="2.2" fill="#0086fd"/>
<circle cx="389.9" cy="459.2" r="2.2" fill="#0089fb"/>
<circle cx="331.7" cy="77.5" r="2.2" fill="#466ff8"/>
<circle cx="384.4" cy="425.1" r="2.2" fill="#ff0053"/>
<circle cx="406.4" cy="121.2" r="2.2" fill="#0088fc"/>
<circle cx="421.1" cy="166.5" r="2.2" fill="#db00b1"/>
<circle cx="388.9" cy="395.8" r="2.2" fill="#c325c6"/>
<circle cx="421.2" cy="161.2" r="2.2" fill="#ce17be"/>
<circle cx="409.4" cy="41.5" r="2.2" fill="#0086fd"/>
<circle cx="390.7" cy="334.6" r="2.2" fill="#0085fd"/>
<circle cx="375.5" cy="335.3" r="2.2" fill="#0086fd"/>
<circle cx="287.6" cy="39.2" r="2.2" fill="#ff0063"/>
<circle cx="272.6" cy="39.2" r="2.2" fill="#d800b5"/>
<circle cx="359.5" cy="185.6" r="2.2" fill="#ff0063"/>
<circle cx="419.5" cy="187.6" r="2.2" fill="#0088fc"/>
<circle cx="387.3" cy="418.8" r="2.2" fill="#ff0062"/>
<circle cx="330.0" cy="70.4" r="2.2" fill="#785fef"/>
<circle cx="397.3" cy="365.7" r="2.2" fill="#6b65f2"/>
<circle cx="405.7" cy="42.7" r="2.2" fill="#008afb"/>
<circle cx="228.5" cy="40.0" r="2.2" fill="#ff0052"/>
<circle cx="389.4" cy="400.8" r="2.2" fill="#ff0060"/>
<circle cx="414.9" cy="186.9" r="2.2" fill="#0088fc"/>
<circle cx="397.3" cy="336.8" r="2.2" fill="#ff0062"/>
<circle cx="407.0" cy="305.7" r="2.2" fill="#0084fd"/>
<circle cx="423.7" cy="216.8" r="2.2" fill="#ff005d"/>
<circle cx="407.7" cy="246.3" r="2.2" fill="#cb1cc1"/>
<circle cx="383.0" cy="423.5" r="2.2" fill="#ff0066"/>
<circle cx="205.7" cy="39.6" r="2.2" fill="#9b4ce1"/>
<circle cx="392.7" cy="68.8" r="2.2" fill="#0086fd"/>
<circle cx="413.0" cy="98.3" r="2.2" fill="#0085fd"/>
<circle cx="393.6" cy="363.0" r="2.2" fill="#008afb"/>
<circle cx="362.4" cy="69.1" r="2.2" fill="#de00ae"/>
<circle cx="355.0" cy="68.8" r="2.2" fill="#0089fb"/>
<circle cx="415.5" cy="216.8" r="2.2" fill="#008afb"/>
<circle cx="439.1" cy="128.5" r="2.2" fill="#9252e5"/>
<circle cx="427.1" cy="158.3" r="2.2" fill="#ff0060"/>
<circle cx="393.4" cy="363.0" r="2.2" fill="#0085fd"/>
<circle cx="282.7" cy="39.2" r="2.2" fill="#0087fc"/>
<circle cx="393.2" cy="305.1" r="2.2" fill="#0089fb"/>
<circle cx="448.1" cy="99.0" r="2.2" fill="#0084fd"/>
<circle cx="431.1" cy="157.4" r="2.2" fill="#ff0054"/>
<circle cx="367.1" cy="185.4" r="2.2" fill="#ff0051"/>
<circle cx="401.8" cy="99.0" r="2.2" fill="#ff0065"/>
<circle cx="406.0" cy="117.7" r="2.2" fill="#ff0065"/>
<circle cx="381.9" cy="335.3" r="2.2" fill="#0089fb"/>
<circle cx="456.6" cy="98.3" r="2.2" fill="#0084fd"/>
<circle cx="386.6" cy="521.1" r="2.2" fill="#ff0059"/>
<circle cx="427.5" cy="97.2" r="2.2" fill="#ff0061"/>
<circle cx="390.6" cy="275.8" r="2.2" fill="#ff0060"/>
<circle cx="432.3" cy="187.6" r="2.2" fill="#008afb"/>
<circle cx="389.1" cy="246.3" r="2.2" fill="#ff005a"/>
<circle cx="375.4" cy="300.3" r="2.2" fill="#7d5eed"/>
<circle cx="392.8" cy="272.4" r="2.2" fill="#466ff8"/>
<circle cx="402.8" cy="246.3" r="2.2" fill="#0087fc"/>
<circle cx="390.5" cy="274.1" r="2.2" fill="#d111bb"/>
<circle cx="412.6" cy="248.1" r="2.2" fill="#0088fc"/>
<circle cx="420.2" cy="128.2" r="2.2" fill="#0085fd"/>
<circle cx="434.4" cy="98.3" r="2.2" fill="#ff0063"/>
<circle cx="392.1" cy="423.5" r="2.3" fill="#0086fd"/>
<circle cx="312.0" cy="69.1" r="2.2" fill="#0089fc"/>
<circle cx="386.5" cy="543.1" r="2.2" fill="#0089fc"/>
<circle cx="416.0" cy="156.3" r="2.2" fill="#9054e6"/>
<circle cx="396.3" cy="336.7" r="2.2" fill="#6367f4"/>
<circle cx="445.3" cy="128.2" r="2.2" fill="#466ff8"/>
<circle cx="383.0" cy="394.0" r="2.2" fill="#d30cba"/>
<circle cx="281.3" cy="39.2" r="2.2" fill="#7c5eee"/>
<circle cx="410.7" cy="156.3" r="2.2" fill="#7860ef"/>
<circle cx="358.4" cy="187.2" r="2.2" fill="#ff0057"/>
<circle cx="432.0" cy="98.3" r="2.2" fill="#7d5ded"/>
<circle cx="377.7" cy="246.3" r="2.2" fill="#9c4be0"/>
<circle cx="387.3" cy="305.1" r="2.2" fill="#0086fd"/>
<circle cx="399.1" cy="98.7" r="2.2" fill="#8958e9"/>
<circle cx="358.7" cy="71.2" r="2.2" fill="#0088fc"/>
<circle cx="405.8" cy="246.3" r="2.2" fill="#cd18be"/>
<circle cx="375.6" cy="187.2" r="2.2" fill="#ff0065"/>
<circle cx="374.1" cy="300.6" r="2.2" fill="#c029c9"/>
<circle cx="408.1" cy="305.1" r="2.2" fill="#0085fd"/>
<circle cx="428.9" cy="97.2" r="2.2" fill="#ff0065"/>
<circle cx="406.5" cy="246.3" r="2.2" fill="#0086fd"/>
<circle cx="431.4" cy="128.5" r="2.2" fill="#0085fd"/>
<circle cx="397.7" cy="333.0" r="2.2" fill="#ff0062"/>
<circle cx="450.8" cy="98.3" r="2.2" fill="#ff005a"/>
<circle cx="386.4" cy="396.1" r="2.2" fill="#ff0065"/>
<circle cx="396.5" cy="69.5" r="2.2" fill="#008afb"/>
<circle cx="405.1" cy="244.3" r="2.2" fill="#ff005a"/>
<circle cx="397.1" cy="187.6" r="2.2" fill="#0085fd"/>
<circle cx="400.0" cy="68.8" r="2.2" fill="#0086fd"/>
<circle cx="336.1" cy="67.8" r="2.2" fill="#ff0056"/>
<circle cx="389.1" cy="69.5" r="2.2" fill="#0086fd"/>
<circle cx="411.1" cy="216.1" r="2.2" fill="#ff005f"/>
<circle cx="387.1" cy="544.6" r="2.2" fill="#0089fb"/>
<circle cx="406.1" cy="138.7" r="2.2" fill="#0085fd"/>
<circle cx="383.5" cy="420.4" r="2.2" fill="#008afb"/>
<circle cx="412.0" cy="39.6" r="2.2" fill="#008afb"/>
<circle cx="385.7" cy="334.6" r="2.2" fill="#0086fc"/>
<circle cx="368.2" cy="191.8" r="2.2" fill="#ff0056"/>
<circle cx="242.4" cy="40.0" r="2.2" fill="#ff0059"/>
<circle cx="237.8" cy="40.0" r="2.2" fill="#ff005f"/>
<circle cx="279.0" cy="39.2" r="2.2" fill="#0089fc"/>
<circle cx="264.1" cy="39.2" r="2.2" fill="#d30bb9"/>
<circle cx="386.8" cy="156.0" r="2.2" fill="#0087fc"/>
<circle cx="287.8" cy="40.0" r="2.2" fill="#ff0059"/>
<circle cx="392.7" cy="246.3" r="2.2" fill="#ff0057"/>
<circle cx="392.0" cy="187.6" r="2.2" fill="#0087fc"/>
<circle cx="386.7" cy="504.6" r="2.2" fill="#ff0051"/>
<circle cx="397.3" cy="334.9" r="2.2" fill="#9650e4"/>
<circle cx="387.1" cy="472.5" r="2.2" fill="#ff0054"/>
<circle cx="376.9" cy="308.8" r="2.2" fill="#008afb"/>
<circle cx="384.1" cy="275.8" r="2.2" fill="#008afb"/>
<circle cx="365.0" cy="364.4" r="2.1" fill="#ff0058"/>
<circle cx="425.9" cy="186.9" r="2.2" fill="#0089fc"/>
<circle cx="393.5" cy="334.9" r="2.2" fill="#e900a0"/>
<circle cx="379.0" cy="303.6" r="2.2" fill="#e400a7"/>
<circle cx="343.4" cy="187.2" r="2.2" fill="#008afb"/>
<circle cx="386.5" cy="506.1" r="2.2" fill="#ff005d"/>
<circle cx="380.9" cy="425.1" r="2.2" fill="#0085fd"/>
<circle cx="360.0" cy="67.3" r="2.2" fill="#0084fd"/>
<circle cx="385.7" cy="364.4" r="2.1" fill="#ff0058"/>
<circle cx="424.2" cy="216.8" r="2.2" fill="#0085fd"/>
<circle cx="422.2" cy="186.9" r="2.2" fill="#0088fc"/>
<circle cx="408.5" cy="157.7" r="2.2" fill="#7660ef"/>
<circle cx="400.7" cy="305.1" r="2.2" fill="#0087fc"/>
<circle cx="433.0" cy="97.2" r="2.2" fill="#ff0054"/>
<circle cx="381.9" cy="426.6" r="2.2" fill="#0085fd"/>
<circle cx="323.7" cy="69.1" r="2.2" fill="#ff0061"/>
<circle cx="383.9" cy="395.4" r="2.2" fill="#ff0053"/>
<circle cx="414.9" cy="245.8" r="2.2" fill="#0086fd"/>
<circle cx="408.7" cy="243.3" r="2.2" fill="#df00ae"/>
<circle cx="457.0" cy="99.0" r="2.2" fill="#ff005a"/>
<circle cx="429.7" cy="100.5" r="2.2" fill="#ff0059"/>
<circle cx="384.4" cy="189.7" r="2.2" fill="#6068f5"/>
<circle cx="393.3" cy="423.5" r="2.3" fill="#0089fc"/>
<circle cx="387.1" cy="479.7" r="2.2" fill="#ff0064"/>
<circle cx="283.0" cy="40.0" r="2.2" fill="#e800a2"/>
<circle cx="409.7" cy="157.7" r="2.2" fill="#0085fd"/>
<circle cx="400.9" cy="99.0" r="2.2" fill="#ff0053"/>
<circle cx="399.4" cy="96.4" r="2.2" fill="#ff0054"/>
<circle cx="393.2" cy="281.0" r="2.2" fill="#c91ec2"/>
<circle cx="378.0" cy="69.5" r="2.2" fill="#0089fc"/>
<circle cx="409.3" cy="305.7" r="2.2" fill="#0087fc"/>
<circle cx="368.1" cy="184.2" r="2.2" fill="#7f5ded"/>
<circle cx="411.0" cy="246.3" r="2.2" fill="#0088fc"/>
<circle cx="404.0" cy="218.6" r="2.2" fill="#ff005e"/>
<circle cx="429.4" cy="155.6" r="2.2" fill="#ff0065"/>
<circle cx="418.5" cy="128.2" r="2.2" fill="#0087fc"/>
<circle cx="394.7" cy="338.1" r="2.2" fill="#974fe3"/>
<circle cx="367.6" cy="187.2" r="2.2" fill="#556bf6"/>
<circle cx="365.6" cy="188.8" r="2.2" fill="#ff005a"/>
<circle cx="224.8" cy="39.2" r="2.2" fill="#ff005f"/>
<circle cx="404.9" cy="215.1" r="2.2" fill="#ff0054"/>
<circle cx="369.6" cy="185.7" r="2.2" fill="#ff005a"/>
<circle cx="403.7" cy="128.2" r="2.2" fill="#0086fd"/>
<circle cx="433.1" cy="127.8" r="2.2" fill="#0084fd"/>
<circle cx="352.1" cy="187.2" r="2.2" fill="#9a4de2"/>
<circle cx="365.9" cy="182.7" r="2.2" fill="#6a65f3"/>
<circle cx="388.9" cy="456.1" r="2.2" fill="#0086fd"/>
<circle cx="400.3" cy="338.7" r="2.2" fill="#ed009a"/>
<circle cx="376.8" cy="310.5" r="2.2" fill="#0085fd"/>
<circle cx="228.5" cy="39.2" r="2.2" fill="#ff0056"/>
<circle cx="376.2" cy="301.8" r="2.2" fill="#9053e6"/>
<circle cx="392.0" cy="367.4" r="2.2" fill="#0085fd"/>
<circle cx="247.6" cy="40.0" r="2.2" fill="#526cf7"/>
<circle cx="390.1" cy="216.8" r="2.2" fill="#ff0057"/>
<circle cx="325.4" cy="69.1" r="2.2" fill="#ff0065"/>
<circle cx="397.2" cy="157.7" r="2.2" fill="#0087fc"/>
<circle cx="396.5" cy="213.7" r="2.2" fill="#ff0057"/>
<circle cx="386.7" cy="531.3" r="2.2" fill="#ff0055"/>
<circle cx="217.3" cy="39.2" r="2.2" fill="#ff0055"/>
<circle cx="386.7" cy="246.3" r="2.2" fill="#ff005f"/>
<circle cx="392.7" cy="284.4" r="2.2" fill="#c127c8"/>
<circle cx="359.2" cy="305.4" r="2.2" fill="#ff0064"/>
<circle cx="449.9" cy="128.2" r="2.2" fill="#ff0063"/>
<circle cx="421.4" cy="157.7" r="2.2" fill="#ff0061"/>
<circle cx="460.8" cy="99.0" r="2.2" fill="#456ff8"/>
<circle cx="432.8" cy="128.5" r="2.2" fill="#ff0055"/>
<circle cx="427.1" cy="186.9" r="2.2" fill="#0088fc"/>
<circle cx="450.7" cy="99.0" r="2.2" fill="#ff005d"/>
<circle cx="430.9" cy="186.9" r="2.2" fill="#0088fc"/>
<circle cx="427.8" cy="101.7" r="2.2" fill="#ff005e"/>
<circle cx="388.9" cy="445.3" r="2.2" fill="#0085fd"/>
<circle cx="332.0" cy="62.4" r="2.2" fill="#855aeb"/>
<circle cx="379.5" cy="335.3" r="2.2" fill="#0086fd"/>
<circle cx="331.5" cy="74.2" r="2.2" fill="#c91ec2"/>
<circle cx="386.6" cy="189.7" r="2.2" fill="#ff0066"/>
<circle cx="419.8" cy="276.1" r="2.2" fill="#ed009a"/>
<circle cx="386.9" cy="244.7" r="2.2" fill="#ff0061"/>
<circle cx="405.7" cy="99.0" r="2.2" fill="#ff0056"/>
<circle cx="366.8" cy="185.5" r="2.2" fill="#845aeb"/>
<circle cx="389.5" cy="395.7" r="2.2" fill="#ff0063"/>
<circle cx="395.7" cy="246.8" r="2.2" fill="#008bfb"/>
<circle cx="430.9" cy="99.0" r="2.2" fill="#0089fb"/>
<circle cx="425.2" cy="95.7" r="2.2" fill="#ff005f"/>
<circle cx="336.1" cy="70.5" r="2.2" fill="#ff0064"/>
<circle cx="371.8" cy="189.7" r="2.2" fill="#ff0057"/>
<circle cx="392.9" cy="286.1" r="2.2" fill="#ff0056"/>
<circle cx="406.0" cy="124.7" r="2.2" fill="#ff0065"/>
<circle cx="395.0" cy="68.8" r="2.2" fill="#0086fd"/>
<circle cx="379.3" cy="98.3" r="2.2" fill="#0088fc"/>
<circle cx="389.4" cy="397.4" r="2.2" fill="#e200aa"/>
<circle cx="430.9" cy="158.1" r="2.2" fill="#ec009c"/>
<circle cx="398.7" cy="336.5" r="2.2" fill="#ff0052"/>
<circle cx="377.0" cy="334.6" r="2.2" fill="#0084fd"/>
<circle cx="383.0" cy="414.7" r="2.2" fill="#ff0061"/>
<circle cx="398.7" cy="336.8" r="2.2" fill="#ec009c"/>
<circle cx="410.3" cy="37.0" r="2.2" fill="#0088fc"/>
<circle cx="370.6" cy="305.4" r="2.2" fill="#ff005a"/>
<circle cx="391.9" cy="274.1" r="2.2" fill="#0088fc"/>
<circle cx="408.3" cy="158.9" r="2.2" fill="#8659ea"/>
<circle cx="410.3" cy="305.7" r="2.2" fill="#0084fd"/>
<circle cx="382.3" cy="418.8" r="2.2" fill="#0087fc"/>
<circle cx="407.6" cy="218.2" r="2.2" fill="#ff0057"/>
<circle cx="386.5" cy="475.3" r="2.2" fill="#0085fd"/>
<circle cx="420.0" cy="157.7" r="2.2" fill="#da00b3"/>
<circle cx="394.6" cy="361.6" r="2.2" fill="#008afb"/>
<circle cx="398.9" cy="334.9" r="2.2" fill="#ff005c"/>
<circle cx="410.4" cy="275.8" r="2.2" fill="#0087fc"/>
<circle cx="440.8" cy="98.3" r="2.2" fill="#008afb"/>
<circle cx="392.3" cy="371.8" r="2.2" fill="#0087fc"/>
<circle cx="398.2" cy="98.3" r="2.2" fill="#0089fc"/>
<circle cx="408.7" cy="216.8" r="2.2" fill="#ff005e"/>
<circle cx="393.8" cy="333.4" r="2.2" fill="#eb009e"/>
<circle cx="382.3" cy="98.3" r="2.2" fill="#0087fc"/>
<circle cx="407.8" cy="219.5" r="2.2" fill="#ff0057"/>
<circle cx="416.2" cy="39.6" r="2.2" fill="#008afb"/>
<circle cx="375.8" cy="303.7" r="2.2" fill="#7e5ded"/>
<circle cx="437.0" cy="128.5" r="2.2" fill="#0088fc"/>
<circle cx="455.7" cy="98.3" r="2.2" fill="#ff005f"/>
<circle cx="405.4" cy="216.8" r="2.2" fill="#ff005d"/>
<circle cx="388.1" cy="99.0" r="2.2" fill="#ff0060"/>
<circle cx="414.8" cy="128.5" r="2.2" fill="#9550e4"/>
<circle cx="322.6" cy="70.4" r="2.2" fill="#d014bc"/>
<circle cx="221.5" cy="40.0" r="2.2" fill="#7b5eee"/>
<circle cx="336.5" cy="69.1" r="2.2" fill="#ff005f"/>
<circle cx="434.7" cy="186.9" r="2.2" fill="#0084fd"/>
<circle cx="409.1" cy="39.6" r="2.2" fill="#008afb"/>
<circle cx="423.9" cy="95.9" r="2.2" fill="#008afb"/>
<circle cx="331.2" cy="69.1" r="2.2" fill="#d409b9"/>
<circle cx="429.5" cy="103.9" r="2.2" fill="#ff0053"/>
<circle cx="377.9" cy="310.3" r="2.2" fill="#8958e9"/>
<circle cx="383.0" cy="189.7" r="2.2" fill="#d408b8"/>
<circle cx="433.2" cy="100.2" r="2.2" fill="#e000ac"/>
<circle cx="408.3" cy="99.0" r="2.2" fill="#0088fc"/>
<circle cx="389.0" cy="454.6" r="2.2" fill="#0086fd"/>
<circle cx="359.9" cy="65.4" r="2.2" fill="#e200aa"/>
<circle cx="386.9" cy="423.5" r="2.2" fill="#008afb"/>
<circle cx="418.1" cy="98.3" r="2.2" fill="#ff005b"/>
<circle cx="398.8" cy="68.8" r="2.2" fill="#0088fc"/>
<circle cx="424.3" cy="98.3" r="2.2" fill="#0088fc"/>
<circle cx="258.3" cy="37.1" r="2.2" fill="#9e4adf"/>
<circle cx="387.1" cy="486.9" r="2.2" fill="#ff005f"/>
<circle cx="388.9" cy="392.2" r="2.2" fill="#0086fd"/>
<circle cx="382.6" cy="413.0" r="2.2" fill="#ff005b"/>
<circle cx="383.9" cy="391.2" r="2.2" fill="#9252e5"/>
<circle cx="382.2" cy="428.2" r="2.2" fill="#ff0061"/>
<circle cx="374.2" cy="335.3" r="2.2" fill="#0084fd"/>
<circle cx="404.6" cy="305.1" r="2.2" fill="#0087fc"/>
<circle cx="383.0" cy="275.8" r="2.2" fill="#0084fd"/>
<circle cx="399.9" cy="69.5" r="2.2" fill="#0089fc"/>
<circle cx="388.3" cy="453.0" r="2.2" fill="#0088fc"/>
<circle cx="400.2" cy="220.3" r="2.2" fill="#ff0054"/>
<circle cx="390.1" cy="392.4" r="2.2" fill="#ff005e"/>
<circle cx="397.0" cy="101.0" r="2.2" fill="#0086fd"/>
<circle cx="420.2" cy="275.5" r="2.2" fill="#795fef"/>
<circle cx="392.4" cy="374.7" r="2.2" fill="#0085fd"/>
<circle cx="405.5" cy="44.3" r="2.2" fill="#0084fd"/>
<circle cx="453.0" cy="98.3" r="2.2" fill="#0088fc"/>
<circle cx="443.3" cy="98.3" r="2.2" fill="#ff005c"/>
<circle cx="406.2" cy="186.9" r="2.2" fill="#0084fd"/>
<circle cx="396.0" cy="362.1" r="2.2" fill="#0085fd"/>
<circle cx="252.5" cy="39.2" r="2.2" fill="#ff005e"/>
<circle cx="421.0" cy="163.0" r="2.2" fill="#ff0063"/>
<circle cx="403.6" cy="34.9" r="2.2" fill="#008afb"/>
<circle cx="370.9" cy="187.2" r="2.2" fill="#0089fb"/>
<circle cx="369.5" cy="182.7" r="2.2" fill="#4e6df7"/>
<circle cx="429.7" cy="106.0" r="2.2" fill="#ff005d"/>
<circle cx="418.8" cy="127.8" r="2.2" fill="#ff005b"/>
<circle cx="383.1" cy="391.2" r="2.2" fill="#0089fb"/>
<circle cx="389.3" cy="159.4" r="2.2" fill="#0087fc"/>
<circle cx="353.7" cy="68.8" r="2.2" fill="#da00b3"/>
<circle cx="398.4" cy="305.7" r="2.2" fill="#0089fc"/>
<circle cx="358.8" cy="67.0" r="2.2" fill="#008afb"/>
<circle cx="398.8" cy="339.6" r="2.2" fill="#ff0057"/>
<circle cx="393.9" cy="69.5" r="2.2" fill="#0088fc"/>
<circle cx="406.3" cy="130.2" r="2.2" fill="#994ee2"/>
<circle cx="367.1" cy="182.7" r="2.2" fill="#ff0063"/>
<circle cx="401.6" cy="332.2" r="2.2" fill="#ff0063"/>
<circle cx="393.1" cy="361.5" r="2.2" fill="#0088fc"/>
<circle cx="397.9" cy="98.7" r="2.2" fill="#0089fb"/>
<circle cx="397.0" cy="275.8" r="2.2" fill="#d506b8"/>
<circle cx="398.1" cy="305.1" r="2.2" fill="#0086fd"/>
<circle cx="375.3" cy="334.6" r="2.2" fill="#0084fd"/>
<circle cx="400.5" cy="98.3" r="2.2" fill="#0088fc"/>
<circle cx="376.8" cy="189.2" r="2.2" fill="#ff005e"/>
<circle cx="420.4" cy="216.8" r="2.2" fill="#ff0063"/>
<circle cx="328.7" cy="70.4" r="2.2" fill="#0088fc"/>
<circle cx="382.2" cy="420.4" r="2.2" fill="#0087fc"/>
<circle cx="390.3" cy="453.0" r="2.2" fill="#0086fd"/>
<circle cx="353.5" cy="185.6" r="2.2" fill="#476ff8"/>
<circle cx="387.1" cy="484.0" r="2.2" fill="#0085fd"/>
<circle cx="361.3" cy="71.2" r="2.2" fill="#0086fd"/>
<circle cx="260.2" cy="40.0" r="2.2" fill="#ff0065"/>
<circle cx="345.0" cy="68.8" r="2.2" fill="#008afb"/>
<circle cx="389.0" cy="457.6" r="2.2" fill="#0087fc"/>
<circle cx="391.6" cy="360.0" r="2.2" fill="#008afb"/>
<circle cx="369.2" cy="68.8" r="2.2" fill="#0084fd"/>
<circle cx="388.0" cy="275.8" r="2.2" fill="#0085fd"/>
<circle cx="355.9" cy="188.9" r="2.2" fill="#0086fd"/>
<circle cx="384.7" cy="428.2" r="2.2" fill="#0089fc"/>
<circle cx="405.2" cy="242.3" r="2.2" fill="#ff005b"/>
<circle cx="398.0" cy="247.6" r="2.2" fill="#0085fd"/>
<circle cx="407.0" cy="157.7" r="2.2" fill="#5b6af5"/>
<circle cx="386.5" cy="513.6" r="2.2" fill="#ff0057"/>
<circle cx="235.2" cy="40.0" r="2.2" fill="#9153e6"/>
<circle cx="343.6" cy="68.8" r="2.2" fill="#0088fc"/>
<circle cx="344.9" cy="69.5" r="2.2" fill="#0084fd"/>
<circle cx="421.3" cy="152.2" r="2.2" fill="#ff0065"/>
<circle cx="389.8" cy="157.7" r="2.2" fill="#0089fc"/>
<circle cx="363.1" cy="305.4" r="2.2" fill="#ff0065"/>
<circle cx="398.8" cy="215.0" r="2.2" fill="#ff005c"/>
<circle cx="417.7" cy="275.2" r="2.2" fill="#994ee2"/>
<circle cx="353.6" cy="188.9" r="2.2" fill="#0086fd"/>
<circle cx="402.5" cy="334.9" r="2.2" fill="#ff0054"/>
<circle cx="366.7" cy="364.4" r="2.1" fill="#ff0058"/>
<circle cx="420.7" cy="99.0" r="2.2" fill="#ff0056"/>
<circle cx="255.9" cy="39.6" r="2.2" fill="#ff005e"/>
<circle cx="408.2" cy="39.6" r="2.2" fill="#0089fc"/>
<circle cx="406.1" cy="187.6" r="2.2" fill="#0084fd"/>
<circle cx="366.0" cy="191.8" r="2.2" fill="#ff0059"/>
<circle cx="388.2" cy="98.3" r="2.2" fill="#7561f0"/>
<circle cx="393.0" cy="98.3" r="2.2" fill="#ff0056"/>
<circle cx="387.2" cy="519.6" r="2.2" fill="#ff0052"/>
<circle cx="406.5" cy="122.9" r="2.2" fill="#008afb"/>
<circle cx="422.1" cy="216.8" r="2.2" fill="#0086fd"/>
<circle cx="338.9" cy="67.7" r="2.2" fill="#c226c7"/>
<circle cx="421.0" cy="156.5" r="2.2" fill="#436ff8"/>
<circle cx="219.8" cy="39.2" r="2.2" fill="#ff0051"/>
<circle cx="390.1" cy="246.3" r="2.2" fill="#994ee2"/>
<circle cx="409.4" cy="37.7" r="2.2" fill="#0086fd"/>
<circle cx="386.9" cy="428.2" r="2.2" fill="#ff0056"/>
<circle cx="398.7" cy="327.1" r="2.2" fill="#ff005f"/>
<circle cx="274.1" cy="40.0" r="2.2" fill="#ff0059"/>
<circle cx="398.9" cy="213.3" r="2.2" fill="#ff005b"/>
<circle cx="218.9" cy="39.2" r="2.2" fill="#ff0061"/>
<circle cx="203.9" cy="39.6" r="2.2" fill="#ff0065"/>
<circle cx="404.5" cy="45.8" r="2.2" fill="#0085fd"/>
<circle cx="392.0" cy="334.6" r="2.2" fill="#0089fc"/>
<circle cx="379.7" cy="419.7" r="2.2" fill="#ff0065"/>
<circle cx="378.3" cy="185.2" r="2.2" fill="#ff0058"/>
<circle cx="387.2" cy="249.5" r="2.2" fill="#ff0064"/>
<circle cx="400.1" cy="336.8" r="2.2" fill="#ff005c"/>
<circle cx="327.8" cy="69.1" r="2.2" fill="#ff005b"/>
<circle cx="391.4" cy="363.0" r="2.2" fill="#0086fd"/>
<circle cx="387.2" cy="534.3" r="2.2" fill="#ff0057"/>
<circle cx="402.6" cy="336.6" r="2.2" fill="#d409b9"/>
<circle cx="424.7" cy="187.6" r="2.2" fill="#0088fc"/>
<circle cx="379.2" cy="307.2" r="2.2" fill="#6d64f2"/>
<circle cx="427.2" cy="187.6" r="2.2" fill="#0085fd"/>
<circle cx="403.1" cy="99.0" r="2.2" fill="#ff0053"/>
<circle cx="409.8" cy="187.6" r="2.2" fill="#0089fb"/>
<circle cx="416.2" cy="157.7" r="2.2" fill="#516cf7"/>
<circle cx="405.7" cy="38.0" r="2.2" fill="#008afb"/>
<circle cx="379.5" cy="334.6" r="2.2" fill="#008afb"/>
<circle cx="252.9" cy="40.0" r="2.2" fill="#9d4be0"/>
<circle cx="412.3" cy="155.5" r="2.2" fill="#825bec"/>
<circle cx="394.6" cy="157.7" r="2.2" fill="#0084fd"/>
<circle cx="376.4" cy="300.1" r="2.2" fill="#9e4ae0"/>
<circle cx="429.1" cy="100.2" r="2.2" fill="#0087fc"/>
<circle cx="421.3" cy="161.4" r="2.2" fill="#e900a1"/>
<circle cx="314.5" cy="69.1" r="2.2" fill="#d013bc"/>
<circle cx="411.4" cy="128.5" r="2.2" fill="#ff0060"/>
<circle cx="284.0" cy="40.0" r="2.2" fill="#9253e6"/>
<circle cx="389.6" cy="390.8" r="2.2" fill="#e400a7"/>
<circle cx="417.0" cy="186.9" r="2.2" fill="#0089fc"/>
<circle cx="413.6" cy="154.9" r="2.2" fill="#5c6af5"/>
<circle cx="389.2" cy="399.1" r="2.2" fill="#d408b8"/>
<circle cx="331.2" cy="70.4" r="2.2" fill="#dc00b0"/>
<circle cx="387.2" cy="473.9" r="2.2" fill="#ff0054"/>
<circle cx="387.9" cy="462.3" r="2.2" fill="#0089fc"/>
<circle cx="423.7" cy="275.8" r="2.2" fill="#ea009f"/>
<circle cx="426.8" cy="98.3" r="2.2" fill="#8f54e6"/>
<circle cx="413.8" cy="128.5" r="2.2" fill="#ff005c"/>
<circle cx="412.1" cy="99.0" r="2.2" fill="#ff0063"/>
<circle cx="405.5" cy="47.4" r="2.2" fill="#008afb"/>
<circle cx="367.1" cy="189.1" r="2.2" fill="#ff0057"/>
<circle cx="418.8" cy="217.1" r="2.2" fill="#0088fc"/>
<circle cx="392.8" cy="274.1" r="2.2" fill="#6a65f2"/>
<circle cx="387.2" cy="551.9" r="2.2" fill="#ff005d"/>
<circle cx="381.5" cy="68.8" r="2.2" fill="#0086fd"/>
<circle cx="446.9" cy="99.0" r="2.2" fill="#ff0062"/>
<circle cx="376.6" cy="246.3" r="2.2" fill="#476ff8"/>
<circle cx="429.9" cy="91.4" r="2.2" fill="#ff0062"/>
<circle cx="386.6" cy="540.1" r="2.2" fill="#ff005e"/>
<circle cx="337.5" cy="69.1" r="2.2" fill="#de00ae"/>
<circle cx="385.4" cy="68.8" r="2.2" fill="#0087fc"/>
<circle cx="388.3" cy="510.9" r="2.2" fill="#496ef8"/>
<circle cx="397.1" cy="364.4" r="2.2" fill="#7362f0"/>
<circle cx="390.1" cy="462.3" r="2.2" fill="#0088fc"/>
<circle cx="398.3" cy="334.9" r="2.2" fill="#ff005a"/>
<circle cx="371.7" cy="307.5" r="2.2" fill="#ed009b"/>
<circle cx="403.9" cy="244.5" r="2.2" fill="#7660ef"/>
<circle cx="406.6" cy="34.9" r="2.2" fill="#0087fc"/>
<circle cx="418.5" cy="126.8" r="2.2" fill="#ec009d"/>
<circle cx="386.5" cy="489.8" r="2.2" fill="#ff005e"/>
<circle cx="420.9" cy="147.2" r="2.2" fill="#ff005c"/>
<circle cx="348.6" cy="68.8" r="2.2" fill="#0089fb"/>
<circle cx="377.9" cy="300.5" r="2.2" fill="#008afb"/>
<circle cx="420.1" cy="128.5" r="2.2" fill="#0086fd"/>
<circle cx="405.3" cy="34.9" r="2.2" fill="#0086fd"/>
<circle cx="414.9" cy="246.8" r="2.2" fill="#0089fc"/>
<circle cx="388.0" cy="442.2" r="2.2" fill="#0089fc"/>
<circle cx="246.2" cy="40.0" r="2.2" fill="#8b56e8"/>
<circle cx="390.0" cy="456.1" r="2.2" fill="#0085fd"/>
<circle cx="429.4" cy="102.2" r="2.2" fill="#ff0056"/>
<circle cx="379.3" cy="68.8" r="2.2" fill="#0089fb"/>
<circle cx="382.3" cy="425.1" r="2.2" fill="#0084fd"/>
<circle cx="424.9" cy="216.8" r="2.2" fill="#ff0053"/>
<circle cx="405.4" cy="28.7" r="2.2" fill="#0087fc"/>
<circle cx="383.0" cy="398.2" r="2.2" fill="#ff0057"/>
<circle cx="401.5" cy="336.3" r="2.2" fill="#c721c4"/>
<circle cx="403.9" cy="250.0" r="2.2" fill="#7361f0"/>
<circle cx="384.7" cy="98.3" r="2.2" fill="#ff005e"/>
<circle cx="390.1" cy="449.9" r="2.2" fill="#0088fc"/>
<circle cx="390.2" cy="463.8" r="2.2" fill="#008bfb"/>
<circle cx="455.4" cy="99.0" r="2.2" fill="#ff0059"/>
<circle cx="386.5" cy="512.1" r="2.2" fill="#ff0058"/>
<circle cx="230.2" cy="39.2" r="2.2" fill="#3e70f9"/>
<circle cx="384.1" cy="392.6" r="2.2" fill="#0085fd"/>
<circle cx="265.3" cy="40.0" r="2.2" fill="#ff0052"/>
<circle cx="276.3" cy="40.0" r="2.2" fill="#ff0062"/>
<circle cx="386.8" cy="157.7" r="2.2" fill="#0086fd"/>
<circle cx="327.8" cy="70.4" r="2.2" fill="#ff0064"/>
<circle cx="413.7" cy="244.5" r="2.2" fill="#0085fd"/>
<circle cx="259.8" cy="39.6" r="2.2" fill="#ff0063"/>
<circle cx="421.1" cy="186.9" r="2.2" fill="#0084fd"/>
<circle cx="404.6" cy="38.0" r="2.2" fill="#0088fc"/>
<circle cx="387.1" cy="482.6" r="2.2" fill="#ff0055"/>
<circle cx="388.9" cy="463.8" r="2.2" fill="#0088fc"/>
<circle cx="231.3" cy="40.0" r="2.2" fill="#ff0065"/>
<circle cx="407.4" cy="244.4" r="2.2" fill="#ff0063"/>
<circle cx="391.1" cy="69.5" r="2.2" fill="#0089fb"/>
<circle cx="429.3" cy="153.5" r="2.2" fill="#6267f4"/>
<circle cx="399.1" cy="101.0" r="2.2" fill="#ff005a"/>
<circle cx="381.0" cy="157.7" r="2.2" fill="#008afb"/>
<circle cx="406.3" cy="126.2" r="2.2" fill="#008afb"/>
<circle cx="393.6" cy="305.7" r="2.2" fill="#008afb"/>
<circle cx="398.8" cy="341.1" r="2.2" fill="#ff0062"/>
<circle cx="374.1" cy="305.4" r="2.2" fill="#0086fd"/>
<circle cx="393.0" cy="374.7" r="2.2" fill="#0088fc"/>
<circle cx="373.1" cy="187.2" r="2.2" fill="#ff0061"/>
<circle cx="397.0" cy="96.4" r="2.2" fill="#0087fc"/>
<circle cx="407.7" cy="187.2" r="2.2" fill="#6d64f2"/>
<circle cx="394.6" cy="331.8" r="2.2" fill="#e600a4"/>
<circle cx="343.8" cy="69.5" r="2.2" fill="#ec009d"/>
<circle cx="424.1" cy="128.5" r="2.2" fill="#c227c7"/>
<circle cx="429.2" cy="96.9" r="2.2" fill="#ff0065"/>
<circle cx="416.1" cy="128.5" r="2.2" fill="#0089fb"/>
<circle cx="402.5" cy="249.2" r="2.2" fill="#0086fd"/>
<circle cx="394.7" cy="363.0" r="2.2" fill="#0089fb"/>
<circle cx="389.5" cy="187.6" r="2.2" fill="#0086fd"/>
<circle cx="465.4" cy="98.3" r="2.2" fill="#ff005b"/>
<circle cx="384.5" cy="187.2" r="2.2" fill="#ea009f"/>
<circle cx="234.0" cy="40.0" r="2.2" fill="#6866f3"/>
<circle cx="366.8" cy="183.8" r="2.2" fill="#e600a4"/>
<circle cx="253.9" cy="40.0" r="2.2" fill="#ff005b"/>
<circle cx="364.5" cy="190.3" r="2.2" fill="#ff0060"/>
<circle cx="394.5" cy="214.4" r="2.2" fill="#ff0053"/>
<circle cx="359.8" cy="69.1" r="2.2" fill="#ff0054"/>
<circle cx="415.3" cy="39.6" r="2.2" fill="#0088fc"/>
<circle cx="416.3" cy="246.3" r="2.2" fill="#0084fd"/>
<circle cx="392.4" cy="361.5" r="2.2" fill="#0089fb"/>
<circle cx="377.0" cy="307.1" r="2.2" fill="#7561f0"/>
<circle cx="385.4" cy="391.2" r="2.2" fill="#008afb"/>
<circle cx="399.7" cy="187.6" r="2.2" fill="#008bfb"/>
<circle cx="429.8" cy="187.6" r="2.2" fill="#008afb"/>
<circle cx="442.9" cy="99.0" r="2.2" fill="#0089fb"/>
<circle cx="423.6" cy="156.6" r="2.2" fill="#ff005a"/>
<circle cx="386.7" cy="239.9" r="2.2" fill="#ff005a"/>
<circle cx="410.1" cy="216.8" r="2.2" fill="#ff0054"/>
<circle cx="404.7" cy="44.3" r="2.2" fill="#0088fc"/>
<circle cx="401.8" cy="305.7" r="2.2" fill="#008afb"/>
<circle cx="390.8" cy="186.9" r="2.2" fill="#008afb"/>
<circle cx="420.8" cy="150.7" r="2.2" fill="#ff0051"/>
<circle cx="390.3" cy="451.5" r="2.2" fill="#0084fd"/>
<circle cx="386.0" cy="425.1" r="2.2" fill="#ff0060"/>
<circle cx="387.1" cy="506.1" r="2.2" fill="#ff0060"/>
<circle cx="250.1" cy="40.0" r="2.2" fill="#ff005c"/>
<circle cx="397.9" cy="101.0" r="2.2" fill="#ff005c"/>
<circle cx="360.0" cy="69.1" r="2.2" fill="#ff005e"/>
<circle cx="386.7" cy="481.1" r="2.2" fill="#ff0053"/>
<circle cx="413.3" cy="157.7" r="2.2" fill="#8d55e7"/>
<circle cx="391.2" cy="68.8" r="2.2" fill="#008afb"/>
<circle cx="376.3" cy="316.0" r="2.2" fill="#da00b2"/>
<circle cx="430.4" cy="97.2" r="2.2" fill="#ff0056"/>
<circle cx="373.2" cy="189.2" r="2.2" fill="#ff0059"/>
<circle cx="386.2" cy="157.7" r="2.2" fill="#0086fd"/>
<circle cx="235.2" cy="39.2" r="2.2" fill="#ff0063"/>
<circle cx="357.0" cy="188.9" r="2.2" fill="#ff0056"/>
<circle cx="418.1" cy="39.6" r="2.2" fill="#0088fc"/>
<circle cx="386.9" cy="334.6" r="2.2" fill="#0084fd"/>
<circle cx="405.0" cy="213.4" r="2.2" fill="#ff005f"/>
<circle cx="257.0" cy="37.1" r="2.2" fill="#9e4be0"/>
<circle cx="271.6" cy="40.0" r="2.2" fill="#845aeb"/>
<circle cx="376.7" cy="394.0" r="2.2" fill="#795fef"/>
<circle cx="376.9" cy="303.7" r="2.2" fill="#6567f4"/>
<circle cx="237.5" cy="39.2" r="2.2" fill="#ff0059"/>
<circle cx="331.8" cy="59.0" r="2.2" fill="#d110bb"/>
<circle cx="405.0" cy="218.4" r="2.2" fill="#ff0053"/>
<circle cx="356.6" cy="305.4" r="2.2" fill="#ff0053"/>
<circle cx="386.5" cy="546.0" r="2.2" fill="#ff0056"/>
<circle cx="361.8" cy="305.4" r="2.2" fill="#ff005d"/>
<circle cx="386.5" cy="515.1" r="2.2" fill="#ff0065"/>
<circle cx="360.0" cy="67.0" r="2.2" fill="#008afb"/>
<circle cx="390.5" cy="277.5" r="2.2" fill="#ce16be"/>
<circle cx="262.8" cy="39.2" r="2.2" fill="#ff0058"/>
<circle cx="397.2" cy="98.3" r="2.2" fill="#cc1ac0"/>
<circle cx="384.2" cy="364.4" r="2.1" fill="#ff0051"/>
<circle cx="395.6" cy="99.0" r="2.2" fill="#ff0056"/>
<circle cx="387.0" cy="538.7" r="2.2" fill="#ff0058"/>
<circle cx="223.6" cy="39.2" r="2.2" fill="#ff0063"/>
<circle cx="360.7" cy="188.9" r="2.2" fill="#ea009f"/>
<circle cx="406.4" cy="136.9" r="2.2" fill="#0089fb"/>
<circle cx="375.4" cy="364.4" r="2.1" fill="#ff0059"/>
<circle cx="307.5" cy="69.1" r="2.2" fill="#cf14bd"/>
<circle cx="373.3" cy="394.0" r="2.2" fill="#e100aa"/>
<circle cx="331.7" cy="75.9" r="2.2" fill="#8759ea"/>
<circle cx="380.5" cy="303.2" r="2.2" fill="#0087fc"/>
<circle cx="349.9" cy="187.2" r="2.2" fill="#ff0054"/>
<circle cx="433.0" cy="98.7" r="2.2" fill="#ff0057"/>
<circle cx="381.7" cy="303.7" r="2.2" fill="#008afb"/>
<circle cx="392.0" cy="186.9" r="2.2" fill="#0088fc"/>
<circle cx="364.5" cy="187.2" r="2.2" fill="#536cf7"/>
<circle cx="409.5" cy="305.1" r="2.2" fill="#0084fd"/>
<circle cx="415.0" cy="275.8" r="2.2" fill="#6e64f2"/>
<circle cx="429.4" cy="93.4" r="2.2" fill="#ff0061"/>
<circle cx="392.3" cy="453.0" r="2.2" fill="#ff0059"/>
<circle cx="382.1" cy="421.9" r="2.2" fill="#ff0052"/>
<circle cx="408.0" cy="36.7" r="2.2" fill="#0086fd"/>
<circle cx="222.7" cy="39.2" r="2.2" fill="#8858e9"/>
<circle cx="382.7" cy="396.8" r="2.2" fill="#ff0063"/>
<circle cx="419.8" cy="126.8" r="2.2" fill="#cc19bf"/>
<circle cx="431.8" cy="100.2" r="2.2" fill="#7561f0"/>
<circle cx="389.7" cy="99.0" r="2.2" fill="#ff0057"/>
<circle cx="386.7" cy="482.6" r="2.2" fill="#ff0064"/>
<circle cx="379.6" cy="184.8" r="2.2" fill="#ff0054"/>
<circle cx="366.9" cy="194.1" r="2.2" fill="#e900a1"/>
<circle cx="286.5" cy="39.2" r="2.2" fill="#ea009f"/>
<circle cx="403.8" cy="42.7" r="2.2" fill="#0089fc"/>
<circle cx="304.0" cy="69.1" r="2.2" fill="#0085fd"/>
<circle cx="434.1" cy="98.7" r="2.2" fill="#ff005e"/>
<circle cx="376.4" cy="303.6" r="2.2" fill="#0089fc"/>
<circle cx="272.8" cy="40.0" r="2.2" fill="#5a6af5"/>
<circle cx="374.2" cy="394.0" r="2.2" fill="#9f49df"/>
<circle cx="415.9" cy="186.9" r="2.2" fill="#0085fd"/>
<circle cx="390.7" cy="157.7" r="2.2" fill="#0089fc"/>
<circle cx="415.0" cy="160.5" r="2.2" fill="#496ef8"/>
<circle cx="398.0" cy="246.3" r="2.2" fill="#008afb"/>
<circle cx="404.4" cy="305.7" r="2.2" fill="#0086fd"/>
<circle cx="429.2" cy="127.8" r="2.2" fill="#0087fc"/>
<circle cx="400.3" cy="213.3" r="2.2" fill="#0088fc"/>
<circle cx="396.6" cy="219.8" r="2.2" fill="#ff0057"/>
<circle cx="408.4" cy="156.5" r="2.2" fill="#0089fc"/>
<circle cx="406.9" cy="186.9" r="2.2" fill="#008afb"/>
<circle cx="393.6" cy="337.9" r="2.2" fill="#db00b1"/>
<circle cx="429.8" cy="104.1" r="2.2" fill="#ff0065"/>
<circle cx="360.1" cy="71.2" r="2.2" fill="#0086fd"/>
<circle cx="394.4" cy="98.3" r="2.2" fill="#ff0051"/>
<circle cx="382.5" cy="190.2" r="2.2" fill="#ff0052"/>
<circle cx="390.5" cy="157.7" r="2.2" fill="#0087fc"/>
<circle cx="317.6" cy="68.6" r="2.2" fill="#d900b3"/>
<circle cx="404.6" cy="157.1" r="2.2" fill="#008afb"/>
<circle cx="405.6" cy="48.9" r="2.2" fill="#008afb"/>
<circle cx="412.5" cy="246.3" r="2.2" fill="#0085fd"/>
<circle cx="328.8" cy="69.1" r="2.2" fill="#008afb"/>
<circle cx="226.3" cy="40.0" r="2.2" fill="#ff005f"/>
<circle cx="384.5" cy="334.6" r="2.2" fill="#008afb"/>
<circle cx="367.4" cy="194.6" r="2.2" fill="#586af6"/>
<circle cx="333.9" cy="70.5" r="2.2" fill="#eb009e"/>
<circle cx="266.5" cy="39.2" r="2.2" fill="#ff0062"/>
<circle cx="384.3" cy="335.3" r="2.2" fill="#008afb"/>
<circle cx="440.8" cy="187.2" r="2.2" fill="#0085fd"/>
<circle cx="438.1" cy="99.0" r="2.2" fill="#0086fd"/>
<circle cx="430.5" cy="101.7" r="2.2" fill="#ff0062"/>
<circle cx="392.4" cy="364.4" r="2.2" fill="#008afb"/>
<circle cx="433.2" cy="187.6" r="2.2" fill="#0086fd"/>
<circle cx="390.2" cy="386.2" r="2.2" fill="#ff0054"/>
<circle cx="389.9" cy="454.6" r="2.2" fill="#0088fc"/>
<circle cx="418.6" cy="159.1" r="2.2" fill="#ff0058"/>
<circle cx="364.6" cy="184.2" r="2.2" fill="#9054e6"/>
<circle cx="383.9" cy="157.7" r="2.2" fill="#0086fd"/>
<circle cx="367.1" cy="191.8" r="2.2" fill="#ff0058"/>
<circle cx="407.6" cy="274.4" r="2.2" fill="#7760ef"/>
<circle cx="421.6" cy="216.8" r="2.2" fill="#ff0053"/>
<circle cx="352.1" cy="186.1" r="2.2" fill="#ff0051"/>
<circle cx="410.4" cy="42.2" r="2.2" fill="#0086fd"/>
<circle cx="368.3" cy="187.2" r="2.2" fill="#ff0054"/>
<circle cx="434.4" cy="128.5" r="2.2" fill="#c721c3"/>
<circle cx="261.5" cy="39.2" r="2.2" fill="#ff005c"/>
<circle cx="264.0" cy="40.0" r="2.2" fill="#ff0056"/>
<circle cx="397.1" cy="186.9" r="2.2" fill="#0085fd"/>
<circle cx="422.1" cy="156.5" r="2.2" fill="#9a4de1"/>
<circle cx="403.4" cy="187.6" r="2.2" fill="#0087fc"/>
<circle cx="391.9" cy="363.0" r="2.2" fill="#0089fb"/>
<circle cx="375.5" cy="189.2" r="2.2" fill="#ff005e"/>
<circle cx="217.3" cy="40.0" r="2.2" fill="#ff0059"/>
<circle cx="391.7" cy="368.8" r="2.2" fill="#0085fd"/>
<circle cx="386.2" cy="68.8" r="2.2" fill="#0089fb"/>
<circle cx="387.3" cy="462.2" r="1.2" fill="#ff0059"/>
<circle cx="385.0" cy="394.0" r="2.2" fill="#ff0054"/>
<circle cx="425.1" cy="100.2" r="2.2" fill="#ff005f"/>
<circle cx="379.7" cy="99.0" r="2.2" fill="#0087fc"/>
<circle cx="414.5" cy="99.0" r="2.2" fill="#ff0055"/>
<circle cx="385.6" cy="187.2" r="2.2" fill="#ff0061"/>
<circle cx="406.4" cy="128.2" r="2.2" fill="#0087fc"/>
<circle cx="368.2" cy="364.4" r="2.1" fill="#ff0060"/>
<circle cx="377.5" cy="157.7" r="2.2" fill="#0084fd"/>
<circle cx="401.2" cy="334.9" r="2.2" fill="#ff0053"/>
<circle cx="395.0" cy="336.6" r="2.2" fill="#e300a9"/>
<circle cx="400.8" cy="305.7" r="2.2" fill="#0084fd"/>
<circle cx="408.0" cy="44.0" r="2.2" fill="#0086fd"/>
<circle cx="239.0" cy="40.0" r="2.2" fill="#dc00b0"/>
<circle cx="385.1" cy="392.6" r="2.2" fill="#0086fd"/>
<circle cx="418.6" cy="157.7" r="2.2" fill="#ff005b"/>
<circle cx="346.3" cy="68.8" r="2.2" fill="#0088fc"/>
<circle cx="397.7" cy="69.5" r="2.2" fill="#0086fd"/>
<circle cx="242.6" cy="39.2" r="2.2" fill="#ff005d"/>
<circle cx="421.4" cy="128.5" r="2.2" fill="#0085fd"/>
<circle cx="431.6" cy="98.7" r="2.2" fill="#0088fc"/>
<circle cx="434.1" cy="101.7" r="2.2" fill="#0088fc"/>
<circle cx="393.1" cy="367.4" r="2.2" fill="#0084fd"/>
<circle cx="405.4" cy="305.7" r="2.2" fill="#0084fd"/>
<circle cx="413.3" cy="186.9" r="2.2" fill="#0088fc"/>
<circle cx="376.3" cy="305.4" r="2.2" fill="#9b4ce1"/>
<circle cx="413.6" cy="248.1" r="2.2" fill="#0086fd"/>
<circle cx="225.0" cy="40.0" r="2.2" fill="#ff0065"/>
<circle cx="428.4" cy="158.2" r="2.2" fill="#c820c3"/>
<circle cx="393.4" cy="354.1" r="2.2" fill="#0087fc"/>
<circle cx="429.5" cy="109.2" r="2.2" fill="#ff0057"/>
<circle cx="382.8" cy="425.2" r="2.2" fill="#ff005e"/>
<circle cx="406.2" cy="133.4" r="2.2" fill="#546cf6"/>
<circle cx="392.4" cy="363.0" r="2.2" fill="#0088fc"/>
<circle cx="398.2" cy="186.9" r="2.2" fill="#6068f4"/>
<circle cx="412.8" cy="305.7" r="2.2" fill="#0088fc"/>
<circle cx="410.1" cy="277.3" r="2.2" fill="#da00b3"/>
<circle cx="388.3" cy="443.8" r="2.2" fill="#0089fb"/>
<circle cx="209.6" cy="39.6" r="2.2" fill="#ff005c"/>
<circle cx="213.8" cy="39.6" r="2.2" fill="#ff0065"/>
<circle cx="385.5" cy="157.7" r="2.2" fill="#008afb"/>
<circle cx="422.1" cy="98.3" r="2.2" fill="#ff005f"/>
<circle cx="407.8" cy="242.5" r="2.2" fill="#ff0062"/>
<circle cx="406.2" cy="135.2" r="2.2" fill="#0088fc"/>
<circle cx="466.9" cy="98.3" r="2.2" fill="#ff0063"/>
<circle cx="388.0" cy="460.7" r="2.2" fill="#0085fd"/>
<circle cx="387.1" cy="421.9" r="2.2" fill="#ff005b"/>
<circle cx="437.1" cy="99.0" r="2.2" fill="#008afb"/>
<circle cx="414.8" cy="187.6" r="2.2" fill="#0086fd"/>
<circle cx="377.9" cy="307.0" r="2.2" fill="#c524c5"/>
<circle cx="387.9" cy="449.9" r="2.2" fill="#0087fc"/>
<circle cx="397.9" cy="213.5" r="2.2" fill="#ff0062"/>
<circle cx="412.3" cy="157.7" r="2.2" fill="#eb009d"/>
<circle cx="258.9" cy="40.0" r="2.2" fill="#8e55e7"/>
<circle cx="406.5" cy="250.2" r="2.2" fill="#ff0055"/>
<circle cx="431.8" cy="97.2" r="2.2" fill="#4c6ef7"/>
<circle cx="379.3" cy="423.5" r="2.2" fill="#ff0059"/>
<circle cx="386.7" cy="476.8" r="2.2" fill="#ff0059"/>
<circle cx="452.0" cy="99.0" r="2.2" fill="#ff0054"/>
<circle cx="383.3" cy="334.6" r="2.2" fill="#0084fd"/>
<circle cx="294.1" cy="39.6" r="2.2" fill="#ff0060"/>
<circle cx="416.0" cy="159.1" r="2.2" fill="#0086fc"/>
<circle cx="376.2" cy="310.7" r="2.2" fill="#e700a4"/>
<circle cx="386.0" cy="305.1" r="2.2" fill="#0088fc"/>
<circle cx="393.7" cy="364.4" r="2.2" fill="#0087fc"/>
<circle cx="358.3" cy="188.9" r="2.2" fill="#ff0062"/>
<circle cx="377.0" cy="185.2" r="2.2" fill="#ff0058"/>
<circle cx="404.8" cy="39.6" r="2.2" fill="#0089fb"/>
<circle cx="442.0" cy="98.3" r="2.2" fill="#795fef"/>
<circle cx="374.2" cy="334.6" r="2.2" fill="#0086fc"/>
<circle cx="380.6" cy="418.8" r="2.2" fill="#ff005c"/>
<circle cx="383.9" cy="396.8" r="2.2" fill="#db00b2"/>
<circle cx="429.9" cy="158.2" r="2.2" fill="#4c6ef8"/>
<circle cx="359.5" cy="72.8" r="2.2" fill="#db00b1"/>
<circle cx="386.7" cy="187.2" r="2.2" fill="#ff0059"/>
<circle cx="393.6" cy="367.2" r="2.2" fill="#0087fc"/>
<circle cx="392.3" cy="370.3" r="2.2" fill="#0089fb"/>
<circle cx="385.6" cy="189.7" r="2.2" fill="#ff0052"/>
<circle cx="408.4" cy="41.1" r="2.2" fill="#0087fc"/>
<circle cx="385.1" cy="69.5" r="2.2" fill="#0086fd"/>
<circle cx="226.2" cy="39.2" r="2.2" fill="#e800a2"/>
<circle cx="405.8" cy="251.4" r="2.2" fill="#df00ad"/>
<circle cx="392.7" cy="363.0" r="2.2" fill="#008afb"/>
<circle cx="379.3" cy="301.8" r="2.2" fill="#ff0054"/>
<circle cx="393.8" cy="331.9" r="2.2" fill="#df00ad"/>
<circle cx="396.9" cy="274.1" r="2.2" fill="#8a57e9"/>
<circle cx="379.3" cy="246.3" r="2.2" fill="#ff005a"/>
<circle cx="417.0" cy="39.6" r="2.2" fill="#008afb"/>
<circle cx="382.8" cy="420.0" r="2.2" fill="#ff0052"/>
<circle cx="436.2" cy="157.7" r="2.2" fill="#ff0056"/>
<circle cx="382.6" cy="188.8" r="2.2" fill="#ff005e"/>
<circle cx="388.3" cy="305.1" r="2.2" fill="#0085fd"/>
<circle cx="431.7" cy="99.0" r="2.2" fill="#446ff8"/>
<circle cx="333.8" cy="69.1" r="2.2" fill="#0086fd"/>
<circle cx="401.0" cy="157.7" r="2.2" fill="#0085fd"/>
<circle cx="352.3" cy="68.8" r="2.2" fill="#008afb"/>
<circle cx="358.9" cy="69.1" r="2.2" fill="#0087fc"/>
<circle cx="405.1" cy="248.3" r="2.2" fill="#e300a8"/>
<circle cx="374.2" cy="246.3" r="2.2" fill="#ff005a"/>
<circle cx="439.2" cy="98.3" r="2.2" fill="#ff0058"/>
<circle cx="419.0" cy="128.5" r="2.2" fill="#ff005a"/>
<circle cx="387.1" cy="251.1" r="2.2" fill="#ff005d"/>
<circle cx="259.0" cy="39.2" r="2.2" fill="#0089fc"/>
<circle cx="387.0" cy="335.3" r="2.2" fill="#0086fd"/>
<circle cx="421.0" cy="159.0" r="2.2" fill="#ff0065"/>
<circle cx="386.7" cy="247.9" r="2.2" fill="#ff0065"/>
<circle cx="387.1" cy="491.2" r="2.2" fill="#ff0056"/>
<circle cx="404.6" cy="28.7" r="2.2" fill="#0084fd"/>
<circle cx="405.8" cy="36.5" r="2.2" fill="#0084fd"/>
<circle cx="244.0" cy="40.0" r="2.2" fill="#ff005c"/>
<circle cx="199.0" cy="39.6" r="2.2" fill="#ff0055"/>
<circle cx="390.2" cy="448.4" r="2.2" fill="#0085fd"/>
<circle cx="369.3" cy="188.8" r="2.2" fill="#ff0063"/>
<circle cx="403.9" cy="36.5" r="2.2" fill="#0089fc"/>
<circle cx="397.1" cy="245.7" r="2.2" fill="#0089fb"/>
<circle cx="321.5" cy="67.9" r="2.2" fill="#008afb"/>
<circle cx="396.6" cy="226.9" r="2.2" fill="#0086fd"/>
<circle cx="406.1" cy="220.4" r="2.2" fill="#ff005d"/>
<circle cx="406.1" cy="211.3" r="2.2" fill="#ff0057"/>
<circle cx="405.9" cy="215.0" r="2.2" fill="#ff0060"/>
<circle cx="396.4" cy="211.7" r="2.2" fill="#ff0054"/>
<circle cx="396.7" cy="213.4" r="2.2" fill="#0085fd"/>
<circle cx="396.6" cy="218.5" r="2.2" fill="#0089fb"/>
<circle cx="405.6" cy="222.2" r="2.2" fill="#0089fb"/>
<circle cx="396.7" cy="223.5" r="2.2" fill="#0084fd"/>
<circle cx="396.7" cy="216.8" r="2.2" fill="#0086fd"/>
<circle cx="406.1" cy="209.5" r="2.2" fill="#ff0053"/>
<circle cx="396.6" cy="221.8" r="2.2" fill="#008afb"/>
<circle cx="406.0" cy="207.7" r="2.2" fill="#ff005c"/>
<circle cx="396.9" cy="210.0" r="2.2" fill="#008afb"/>
<circle cx="406.0" cy="213.1" r="2.2" fill="#ff0061"/>
<circle cx="405.7" cy="218.6" r="2.2" fill="#ff0055"/>
<circle cx="405.7" cy="216.8" r="2.2" fill="#ff0052"/>
<circle cx="396.6" cy="206.7" r="2.2" fill="#0085fd"/>
<circle cx="396.9" cy="215.1" r="2.2" fill="#ff0056"/>
<circle cx="396.7" cy="225.2" r="2.2" fill="#0087fc"/>
<circle cx="406.0" cy="224.1" r="2.2" fill="#ff0057"/>
<circle cx="396.5" cy="220.1" r="2.2" fill="#0084fd"/>
<circle cx="405.8" cy="225.9" r="2.2" fill="#ff0059"/>
<circle cx="396.6" cy="208.4" r="2.2" fill="#0087fc"/>
<circle cx="387.2" cy="474.3" r="2.3" fill="#0089fc"/>
<circle cx="387.2" cy="483.4" r="2.3" fill="#0089fc"/>
<circle cx="387.2" cy="485.9" r="2.3" fill="#0089fc"/>
<circle cx="386.6" cy="479.0" r="2.0" fill="#0088fc"/>
<circle cx="387.0" cy="540.8" r="2.3" fill="#0089fc"/>
<circle cx="387.0" cy="546.6" r="2.3" fill="#0089fc"/>
<circle cx="385.9" cy="424.5" r="2.0" fill="#0089fc"/>
<circle cx="384.4" cy="426.2" r="2.0" fill="#0088fc"/>
<circle cx="382.1" cy="426.4" r="2.0" fill="#0087fc"/>
<circle cx="380.3" cy="425.0" r="2.0" fill="#0089fc"/>
<circle cx="380.1" cy="422.8" r="2.0" fill="#0088fc"/>
<circle cx="381.6" cy="421.2" r="2.0" fill="#0087fc"/>
<circle cx="383.9" cy="421.0" r="2.0" fill="#0089fc"/>
<circle cx="385.7" cy="422.4" r="2.0" fill="#0088fc"/>
<circle cx="383.6" cy="422.9" r="1.9" fill="#ff0059"/>
<circle cx="379.2" cy="425.0" r="2.1" fill="#0088fc"/>
</g>
<line x1="179" x2="481.3" y1="572" y2="572" stroke="#484848" stroke-width="1.35"/>
<g stroke="#444" stroke-width="0.9">
<line x1="209.9" x2="209.9" y1="572" y2="575.6"/>
<line x1="268.8" x2="268.8" y1="572" y2="575.6"/>
<line x1="327.8" x2="327.8" y1="572" y2="575.6"/>
<line x1="386.8" x2="386.8" y1="572" y2="575.6"/>
<line x1="445.8" x2="445.8" y1="572" y2="575.6"/>
</g>
<g class="tk" text-anchor="middle">
<text x="209.9" y="586.8">−0.6</text>
<text x="268.8" y="586.8">−0.4</text>
<text x="327.8" y="586.8">−0.2</text>
<text x="386.8" y="586.8">0.0</text>
<text x="445.8" y="586.8">0.2</text>
</g>
<text class="xl" x="330.2" y="602.9" text-anchor="middle">SHAP value (impact on model output)</text>
<g class="yl" text-anchor="end">
<text x="155.7" y="44.9">Intersection_Type</text>
<text x="155.7" y="74.4">Temperature</text>
<text x="155.7" y="104.0">Population</text>
<text x="155.7" y="133.5">Car_Lanes</text>
<text x="155.7" y="163.0">Wind_Average_Speed</text>
<text x="155.7" y="192.6">Stream_Number</text>
<text x="155.7" y="222.1">Bus_Dummy</text>
<text x="155.7" y="251.6">Weekday_Number</text>
<text x="155.7" y="281.1">Day</text>
<text x="155.7" y="310.7">Hour</text>
<text x="155.7" y="340.2">Wind_Maximum_Speed</text>
<text x="155.7" y="369.7">Precipitation_Intensity</text>
<text x="155.7" y="399.3">Intersection_ID</text>
<text x="155.7" y="428.8">Peak</text>
<text x="155.7" y="458.3">Precipitation_Duration</text>
<text x="155.7" y="487.9">Tram_Dummy</text>
<text x="155.7" y="517.4">Bike_Streams</text>
<text x="155.7" y="546.9">Arms</text>
</g>
<rect x="500.2" y="10" width="7.2" height="561.4" fill="url(#cb)"/>
<text class="hl" x="511.5" y="14.4" style="letter-spacing:0.4px">High</text>
<text class="hl" x="511.5" y="575.2">Low</text>
<text class="fv" transform="translate(543.9,291.6) rotate(-90)" text-anchor="middle">Feature value</text>
</svg>
</body></html>
